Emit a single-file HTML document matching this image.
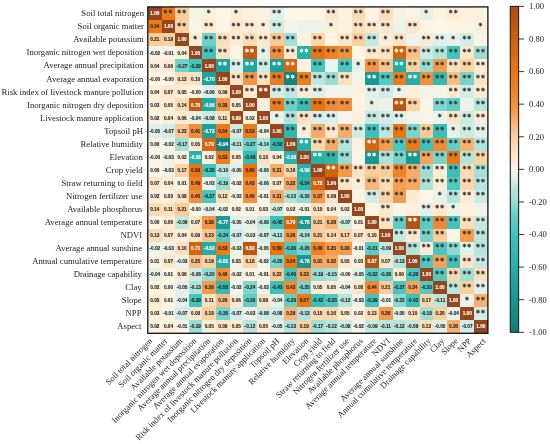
<!DOCTYPE html>
<html lang="en"><head><meta charset="utf-8"><title>Correlation heatmap</title>
<style>html,body{margin:0;padding:0;background:#fff}body{width:550px;height:444px;overflow:hidden}</style></head>
<body>
<svg width="550" height="444" viewBox="0 0 550 444" style="display:block">
<rect width="550" height="444" fill="#ffffff"/>
<g shape-rendering="crispEdges">
<rect x="148.10" y="7.20" width="13.88" height="13.33" fill="#96461c"/>
<rect x="161.68" y="7.20" width="13.88" height="13.33" fill="#ed7a1a"/>
<rect x="175.26" y="7.20" width="13.88" height="13.33" fill="#fccc9b"/>
<rect x="188.84" y="7.20" width="13.88" height="13.33" fill="#f1f4e7"/>
<rect x="202.42" y="7.20" width="13.88" height="13.33" fill="#fdeed8"/>
<rect x="216.00" y="7.20" width="13.88" height="13.33" fill="#fdf6e6"/>
<rect x="229.58" y="7.20" width="13.88" height="13.33" fill="#fdeed8"/>
<rect x="243.16" y="7.20" width="13.88" height="13.33" fill="#fdf0dc"/>
<rect x="256.74" y="7.20" width="13.88" height="13.33" fill="#fdf2df"/>
<rect x="270.32" y="7.20" width="13.88" height="13.33" fill="#e0f1e9"/>
<rect x="283.90" y="7.20" width="13.88" height="13.33" fill="#fdf6e6"/>
<rect x="297.48" y="7.20" width="13.88" height="13.33" fill="#fdf6e6"/>
<rect x="311.06" y="7.20" width="13.88" height="13.33" fill="#fdf6e6"/>
<rect x="324.64" y="7.20" width="13.88" height="13.33" fill="#fde8ce"/>
<rect x="338.22" y="7.20" width="13.88" height="13.33" fill="#fdf2df"/>
<rect x="351.80" y="7.20" width="13.88" height="13.33" fill="#fcdbb5"/>
<rect x="365.38" y="7.20" width="13.88" height="13.33" fill="#fdf6e6"/>
<rect x="378.96" y="7.20" width="13.88" height="13.33" fill="#fcddb8"/>
<rect x="392.54" y="7.20" width="13.88" height="13.33" fill="#f1f4e7"/>
<rect x="406.12" y="7.20" width="13.88" height="13.33" fill="#fdf4e2"/>
<rect x="419.70" y="7.20" width="13.88" height="13.33" fill="#e6f2e8"/>
<rect x="433.28" y="7.20" width="13.88" height="13.33" fill="#fdf2df"/>
<rect x="446.86" y="7.20" width="13.88" height="13.33" fill="#fdecd4"/>
<rect x="460.44" y="7.20" width="13.88" height="13.33" fill="#fdf0dc"/>
<rect x="474.02" y="7.20" width="13.88" height="13.33" fill="#fdf2df"/>
<rect x="148.10" y="20.23" width="13.88" height="13.33" fill="#ed7a1a"/>
<rect x="161.68" y="20.23" width="13.88" height="13.33" fill="#96461c"/>
<rect x="175.26" y="20.23" width="13.88" height="13.33" fill="#fcd1a4"/>
<rect x="188.84" y="20.23" width="13.88" height="13.33" fill="#f7f5e7"/>
<rect x="202.42" y="20.23" width="13.88" height="13.33" fill="#fdead1"/>
<rect x="216.00" y="20.23" width="13.88" height="13.33" fill="#fdf6e6"/>
<rect x="229.58" y="20.23" width="13.88" height="13.33" fill="#fde8ce"/>
<rect x="243.16" y="20.23" width="13.88" height="13.33" fill="#fdecd4"/>
<rect x="256.74" y="20.23" width="13.88" height="13.33" fill="#fdeed8"/>
<rect x="270.32" y="20.23" width="13.88" height="13.33" fill="#d2ede5"/>
<rect x="283.90" y="20.23" width="13.88" height="13.33" fill="#f1f4e7"/>
<rect x="297.48" y="20.23" width="13.88" height="13.33" fill="#ecf3e8"/>
<rect x="311.06" y="20.23" width="13.88" height="13.33" fill="#ecf3e8"/>
<rect x="324.64" y="20.23" width="13.88" height="13.33" fill="#fdeed8"/>
<rect x="338.22" y="20.23" width="13.88" height="13.33" fill="#fdf0dc"/>
<rect x="351.80" y="20.23" width="13.88" height="13.33" fill="#fce1c0"/>
<rect x="365.38" y="20.23" width="13.88" height="13.33" fill="#fdead1"/>
<rect x="378.96" y="20.23" width="13.88" height="13.33" fill="#fde8ce"/>
<rect x="392.54" y="20.23" width="13.88" height="13.33" fill="#ecf3e8"/>
<rect x="406.12" y="20.23" width="13.88" height="13.33" fill="#fde8ce"/>
<rect x="419.70" y="20.23" width="13.88" height="13.33" fill="#fdf4e2"/>
<rect x="433.28" y="20.23" width="13.88" height="13.33" fill="#fdf6e6"/>
<rect x="446.86" y="20.23" width="13.88" height="13.33" fill="#fdf4e2"/>
<rect x="460.44" y="20.23" width="13.88" height="13.33" fill="#f7f5e7"/>
<rect x="474.02" y="20.23" width="13.88" height="13.33" fill="#fdeed8"/>
<rect x="148.10" y="33.26" width="13.88" height="13.33" fill="#fccc9b"/>
<rect x="161.68" y="33.26" width="13.88" height="13.33" fill="#fcd1a4"/>
<rect x="175.26" y="33.26" width="13.88" height="13.33" fill="#96461c"/>
<rect x="188.84" y="33.26" width="13.88" height="13.33" fill="#fdeed8"/>
<rect x="202.42" y="33.26" width="13.88" height="13.33" fill="#6fd2ca"/>
<rect x="216.00" y="33.26" width="13.88" height="13.33" fill="#fcdfbc"/>
<rect x="229.58" y="33.26" width="13.88" height="13.33" fill="#fdecd4"/>
<rect x="243.16" y="33.26" width="13.88" height="13.33" fill="#fcdbb5"/>
<rect x="256.74" y="33.26" width="13.88" height="13.33" fill="#fdead1"/>
<rect x="270.32" y="33.26" width="13.88" height="13.33" fill="#fbc896"/>
<rect x="283.90" y="33.26" width="13.88" height="13.33" fill="#a2dfd7"/>
<rect x="297.48" y="33.26" width="13.88" height="13.33" fill="#fdf2df"/>
<rect x="311.06" y="33.26" width="13.88" height="13.33" fill="#fcd5aa"/>
<rect x="324.64" y="33.26" width="13.88" height="13.33" fill="#fdf4e2"/>
<rect x="338.22" y="33.26" width="13.88" height="13.33" fill="#fde6ca"/>
<rect x="351.80" y="33.26" width="13.88" height="13.33" fill="#fccc9b"/>
<rect x="365.38" y="33.26" width="13.88" height="13.33" fill="#c5e9e1"/>
<rect x="378.96" y="33.26" width="13.88" height="13.33" fill="#fdeed8"/>
<rect x="392.54" y="33.26" width="13.88" height="13.33" fill="#fce2c3"/>
<rect x="406.12" y="33.26" width="13.88" height="13.33" fill="#ecf3e8"/>
<rect x="419.70" y="33.26" width="13.88" height="13.33" fill="#fdead1"/>
<rect x="433.28" y="33.26" width="13.88" height="13.33" fill="#e0f1e9"/>
<rect x="446.86" y="33.26" width="13.88" height="13.33" fill="#e6f2e8"/>
<rect x="460.44" y="33.26" width="13.88" height="13.33" fill="#d2ede5"/>
<rect x="474.02" y="33.26" width="13.88" height="13.33" fill="#f7f5e7"/>
<rect x="148.10" y="46.30" width="13.88" height="13.33" fill="#f1f4e7"/>
<rect x="161.68" y="46.30" width="13.88" height="13.33" fill="#f7f5e7"/>
<rect x="175.26" y="46.30" width="13.88" height="13.33" fill="#fdeed8"/>
<rect x="188.84" y="46.30" width="13.88" height="13.33" fill="#96461c"/>
<rect x="202.42" y="46.30" width="13.88" height="13.33" fill="#41c4bd"/>
<rect x="216.00" y="46.30" width="13.88" height="13.33" fill="#fce2c3"/>
<rect x="229.58" y="46.30" width="13.88" height="13.33" fill="#fdf6e6"/>
<rect x="243.16" y="46.30" width="13.88" height="13.33" fill="#c65c10"/>
<rect x="256.74" y="46.30" width="13.88" height="13.33" fill="#e6f2e8"/>
<rect x="270.32" y="46.30" width="13.88" height="13.33" fill="#f38c38"/>
<rect x="283.90" y="46.30" width="13.88" height="13.33" fill="#fdecd4"/>
<rect x="297.48" y="46.30" width="13.88" height="13.33" fill="#28b1aa"/>
<rect x="311.06" y="46.30" width="13.88" height="13.33" fill="#eb7410"/>
<rect x="324.64" y="46.30" width="13.88" height="13.33" fill="#ef8024"/>
<rect x="338.22" y="46.30" width="13.88" height="13.33" fill="#f38e3a"/>
<rect x="351.80" y="46.30" width="13.88" height="13.33" fill="#fdf6e6"/>
<rect x="365.38" y="46.30" width="13.88" height="13.33" fill="#fde8ce"/>
<rect x="378.96" y="46.30" width="13.88" height="13.33" fill="#fde4c6"/>
<rect x="392.54" y="46.30" width="13.88" height="13.33" fill="#d4650f"/>
<rect x="406.12" y="46.30" width="13.88" height="13.33" fill="#fabf86"/>
<rect x="419.70" y="46.30" width="13.88" height="13.33" fill="#ccebe3"/>
<rect x="433.28" y="46.30" width="13.88" height="13.33" fill="#b2e4db"/>
<rect x="446.86" y="46.30" width="13.88" height="13.33" fill="#41c4bd"/>
<rect x="460.44" y="46.30" width="13.88" height="13.33" fill="#fde6ca"/>
<rect x="474.02" y="46.30" width="13.88" height="13.33" fill="#9addd4"/>
<rect x="148.10" y="59.33" width="13.88" height="13.33" fill="#fdeed8"/>
<rect x="161.68" y="59.33" width="13.88" height="13.33" fill="#fdead1"/>
<rect x="175.26" y="59.33" width="13.88" height="13.33" fill="#6fd2ca"/>
<rect x="188.84" y="59.33" width="13.88" height="13.33" fill="#41c4bd"/>
<rect x="202.42" y="59.33" width="13.88" height="13.33" fill="#96461c"/>
<rect x="216.00" y="59.33" width="13.88" height="13.33" fill="#20a29c"/>
<rect x="229.58" y="59.33" width="13.88" height="13.33" fill="#d9efe7"/>
<rect x="243.16" y="59.33" width="13.88" height="13.33" fill="#22a8a1"/>
<rect x="256.74" y="59.33" width="13.88" height="13.33" fill="#ccebe3"/>
<rect x="270.32" y="59.33" width="13.88" height="13.33" fill="#1e9f98"/>
<rect x="283.90" y="59.33" width="13.88" height="13.33" fill="#d6660f"/>
<rect x="297.48" y="59.33" width="13.88" height="13.33" fill="#fdf2df"/>
<rect x="311.06" y="59.33" width="13.88" height="13.33" fill="#45c5be"/>
<rect x="324.64" y="59.33" width="13.88" height="13.33" fill="#ecf3e8"/>
<rect x="338.22" y="59.33" width="13.88" height="13.33" fill="#48c6bf"/>
<rect x="351.80" y="59.33" width="13.88" height="13.33" fill="#e6f2e8"/>
<rect x="365.38" y="59.33" width="13.88" height="13.33" fill="#f49444"/>
<rect x="378.96" y="59.33" width="13.88" height="13.33" fill="#fbc591"/>
<rect x="392.54" y="59.33" width="13.88" height="13.33" fill="#24aba4"/>
<rect x="406.12" y="59.33" width="13.88" height="13.33" fill="#fcd1a4"/>
<rect x="419.70" y="59.33" width="13.88" height="13.33" fill="#96dcd3"/>
<rect x="433.28" y="59.33" width="13.88" height="13.33" fill="#f59b4e"/>
<rect x="446.86" y="59.33" width="13.88" height="13.33" fill="#fce1c0"/>
<rect x="460.44" y="59.33" width="13.88" height="13.33" fill="#fcd3a7"/>
<rect x="474.02" y="59.33" width="13.88" height="13.33" fill="#fdecd4"/>
<rect x="148.10" y="72.36" width="13.88" height="13.33" fill="#fdf6e6"/>
<rect x="161.68" y="72.36" width="13.88" height="13.33" fill="#fdf6e6"/>
<rect x="175.26" y="72.36" width="13.88" height="13.33" fill="#fcdfbc"/>
<rect x="188.84" y="72.36" width="13.88" height="13.33" fill="#fce2c3"/>
<rect x="202.42" y="72.36" width="13.88" height="13.33" fill="#20a29c"/>
<rect x="216.00" y="72.36" width="13.88" height="13.33" fill="#96461c"/>
<rect x="229.58" y="72.36" width="13.88" height="13.33" fill="#fde4c6"/>
<rect x="243.16" y="72.36" width="13.88" height="13.33" fill="#f49444"/>
<rect x="256.74" y="72.36" width="13.88" height="13.33" fill="#fce1c0"/>
<rect x="270.32" y="72.36" width="13.88" height="13.33" fill="#ed7a1a"/>
<rect x="283.90" y="72.36" width="13.88" height="13.33" fill="#11847f"/>
<rect x="297.48" y="72.36" width="13.88" height="13.33" fill="#ee7b1c"/>
<rect x="311.06" y="72.36" width="13.88" height="13.33" fill="#bee7df"/>
<rect x="324.64" y="72.36" width="13.88" height="13.33" fill="#9addd4"/>
<rect x="338.22" y="72.36" width="13.88" height="13.33" fill="#fcdfbc"/>
<rect x="351.80" y="72.36" width="13.88" height="13.33" fill="#f1f4e7"/>
<rect x="365.38" y="72.36" width="13.88" height="13.33" fill="#1b9a94"/>
<rect x="378.96" y="72.36" width="13.88" height="13.33" fill="#52c9c2"/>
<rect x="392.54" y="72.36" width="13.88" height="13.33" fill="#ee7b1c"/>
<rect x="406.12" y="72.36" width="13.88" height="13.33" fill="#25aea7"/>
<rect x="419.70" y="72.36" width="13.88" height="13.33" fill="#f38e3a"/>
<rect x="433.28" y="72.36" width="13.88" height="13.33" fill="#32b9b2"/>
<rect x="446.86" y="72.36" width="13.88" height="13.33" fill="#f9bc81"/>
<rect x="460.44" y="72.36" width="13.88" height="13.33" fill="#75d3cb"/>
<rect x="474.02" y="72.36" width="13.88" height="13.33" fill="#fde4c6"/>
<rect x="148.10" y="85.39" width="13.88" height="13.33" fill="#fdeed8"/>
<rect x="161.68" y="85.39" width="13.88" height="13.33" fill="#fde8ce"/>
<rect x="175.26" y="85.39" width="13.88" height="13.33" fill="#fdecd4"/>
<rect x="188.84" y="85.39" width="13.88" height="13.33" fill="#fdf6e6"/>
<rect x="202.42" y="85.39" width="13.88" height="13.33" fill="#d9efe7"/>
<rect x="216.00" y="85.39" width="13.88" height="13.33" fill="#fde4c6"/>
<rect x="229.58" y="85.39" width="13.88" height="13.33" fill="#96461c"/>
<rect x="243.16" y="85.39" width="13.88" height="13.33" fill="#fdecd4"/>
<rect x="256.74" y="85.39" width="13.88" height="13.33" fill="#98471b"/>
<rect x="270.32" y="85.39" width="13.88" height="13.33" fill="#d2ede5"/>
<rect x="283.90" y="85.39" width="13.88" height="13.33" fill="#bae6de"/>
<rect x="297.48" y="85.39" width="13.88" height="13.33" fill="#fdecd4"/>
<rect x="311.06" y="85.39" width="13.88" height="13.33" fill="#e0f1e9"/>
<rect x="324.64" y="85.39" width="13.88" height="13.33" fill="#f1f4e7"/>
<rect x="338.22" y="85.39" width="13.88" height="13.33" fill="#f1f4e7"/>
<rect x="351.80" y="85.39" width="13.88" height="13.33" fill="#fdf2df"/>
<rect x="365.38" y="85.39" width="13.88" height="13.33" fill="#e0f1e9"/>
<rect x="378.96" y="85.39" width="13.88" height="13.33" fill="#d2ede5"/>
<rect x="392.54" y="85.39" width="13.88" height="13.33" fill="#ecf3e8"/>
<rect x="406.12" y="85.39" width="13.88" height="13.33" fill="#fdf0dc"/>
<rect x="419.70" y="85.39" width="13.88" height="13.33" fill="#f1f4e7"/>
<rect x="433.28" y="85.39" width="13.88" height="13.33" fill="#f1f4e7"/>
<rect x="446.86" y="85.39" width="13.88" height="13.33" fill="#fdead1"/>
<rect x="460.44" y="85.39" width="13.88" height="13.33" fill="#d2ede5"/>
<rect x="474.02" y="85.39" width="13.88" height="13.33" fill="#fdecd4"/>
<rect x="148.10" y="98.42" width="13.88" height="13.33" fill="#fdf0dc"/>
<rect x="161.68" y="98.42" width="13.88" height="13.33" fill="#fdecd4"/>
<rect x="175.26" y="98.42" width="13.88" height="13.33" fill="#fcdbb5"/>
<rect x="188.84" y="98.42" width="13.88" height="13.33" fill="#c65c10"/>
<rect x="202.42" y="98.42" width="13.88" height="13.33" fill="#22a8a1"/>
<rect x="216.00" y="98.42" width="13.88" height="13.33" fill="#f49444"/>
<rect x="229.58" y="98.42" width="13.88" height="13.33" fill="#fdecd4"/>
<rect x="243.16" y="98.42" width="13.88" height="13.33" fill="#96461c"/>
<rect x="256.74" y="98.42" width="13.88" height="13.33" fill="#fdf2df"/>
<rect x="270.32" y="98.42" width="13.88" height="13.33" fill="#ee7b1c"/>
<rect x="283.90" y="98.42" width="13.88" height="13.33" fill="#6fd2ca"/>
<rect x="297.48" y="98.42" width="13.88" height="13.33" fill="#34bbb4"/>
<rect x="311.06" y="98.42" width="13.88" height="13.33" fill="#eb730e"/>
<rect x="324.64" y="98.42" width="13.88" height="13.33" fill="#f28a33"/>
<rect x="338.22" y="98.42" width="13.88" height="13.33" fill="#f38e3a"/>
<rect x="351.80" y="98.42" width="13.88" height="13.33" fill="#fdf4e2"/>
<rect x="365.38" y="98.42" width="13.88" height="13.33" fill="#e6f2e8"/>
<rect x="378.96" y="98.42" width="13.88" height="13.33" fill="#ecf3e8"/>
<rect x="392.54" y="98.42" width="13.88" height="13.33" fill="#bb5712"/>
<rect x="406.12" y="98.42" width="13.88" height="13.33" fill="#fcd3a7"/>
<rect x="419.70" y="98.42" width="13.88" height="13.33" fill="#fdf4e2"/>
<rect x="433.28" y="98.42" width="13.88" height="13.33" fill="#80d6ce"/>
<rect x="446.86" y="98.42" width="13.88" height="13.33" fill="#5fcdc6"/>
<rect x="460.44" y="98.42" width="13.88" height="13.33" fill="#ecf3e8"/>
<rect x="474.02" y="98.42" width="13.88" height="13.33" fill="#b6e5dd"/>
<rect x="148.10" y="111.46" width="13.88" height="13.33" fill="#fdf2df"/>
<rect x="161.68" y="111.46" width="13.88" height="13.33" fill="#fdeed8"/>
<rect x="175.26" y="111.46" width="13.88" height="13.33" fill="#fdead1"/>
<rect x="188.84" y="111.46" width="13.88" height="13.33" fill="#e6f2e8"/>
<rect x="202.42" y="111.46" width="13.88" height="13.33" fill="#ccebe3"/>
<rect x="216.00" y="111.46" width="13.88" height="13.33" fill="#fce1c0"/>
<rect x="229.58" y="111.46" width="13.88" height="13.33" fill="#98471b"/>
<rect x="243.16" y="111.46" width="13.88" height="13.33" fill="#fdf2df"/>
<rect x="256.74" y="111.46" width="13.88" height="13.33" fill="#96461c"/>
<rect x="270.32" y="111.46" width="13.88" height="13.33" fill="#e6f2e8"/>
<rect x="283.90" y="111.46" width="13.88" height="13.33" fill="#aee3da"/>
<rect x="297.48" y="111.46" width="13.88" height="13.33" fill="#fce2c3"/>
<rect x="311.06" y="111.46" width="13.88" height="13.33" fill="#d9efe7"/>
<rect x="324.64" y="111.46" width="13.88" height="13.33" fill="#d9efe7"/>
<rect x="338.22" y="111.46" width="13.88" height="13.33" fill="#f7f5e7"/>
<rect x="351.80" y="111.46" width="13.88" height="13.33" fill="#fdf0dc"/>
<rect x="365.38" y="111.46" width="13.88" height="13.33" fill="#c5e9e1"/>
<rect x="378.96" y="111.46" width="13.88" height="13.33" fill="#d2ede5"/>
<rect x="392.54" y="111.46" width="13.88" height="13.33" fill="#e0f1e9"/>
<rect x="406.12" y="111.46" width="13.88" height="13.33" fill="#f1f4e7"/>
<rect x="419.70" y="111.46" width="13.88" height="13.33" fill="#f7f5e7"/>
<rect x="433.28" y="111.46" width="13.88" height="13.33" fill="#ecf3e8"/>
<rect x="446.86" y="111.46" width="13.88" height="13.33" fill="#fde4c6"/>
<rect x="460.44" y="111.46" width="13.88" height="13.33" fill="#ccebe3"/>
<rect x="474.02" y="111.46" width="13.88" height="13.33" fill="#fdecd4"/>
<rect x="148.10" y="124.49" width="13.88" height="13.33" fill="#e0f1e9"/>
<rect x="161.68" y="124.49" width="13.88" height="13.33" fill="#d2ede5"/>
<rect x="175.26" y="124.49" width="13.88" height="13.33" fill="#fbc896"/>
<rect x="188.84" y="124.49" width="13.88" height="13.33" fill="#f38c38"/>
<rect x="202.42" y="124.49" width="13.88" height="13.33" fill="#1e9f98"/>
<rect x="216.00" y="124.49" width="13.88" height="13.33" fill="#ed7a1a"/>
<rect x="229.58" y="124.49" width="13.88" height="13.33" fill="#d2ede5"/>
<rect x="243.16" y="124.49" width="13.88" height="13.33" fill="#ee7b1c"/>
<rect x="256.74" y="124.49" width="13.88" height="13.33" fill="#e6f2e8"/>
<rect x="270.32" y="124.49" width="13.88" height="13.33" fill="#96461c"/>
<rect x="283.90" y="124.49" width="13.88" height="13.33" fill="#30b7b0"/>
<rect x="297.48" y="124.49" width="13.88" height="13.33" fill="#fdeed8"/>
<rect x="311.06" y="124.49" width="13.88" height="13.33" fill="#f7ab68"/>
<rect x="324.64" y="124.49" width="13.88" height="13.33" fill="#fde8ce"/>
<rect x="338.22" y="124.49" width="13.88" height="13.33" fill="#f7ab68"/>
<rect x="351.80" y="124.49" width="13.88" height="13.33" fill="#d2ede5"/>
<rect x="365.38" y="124.49" width="13.88" height="13.33" fill="#3cc1ba"/>
<rect x="378.96" y="124.49" width="13.88" height="13.33" fill="#bae6de"/>
<rect x="392.54" y="124.49" width="13.88" height="13.33" fill="#eb7410"/>
<rect x="406.12" y="124.49" width="13.88" height="13.33" fill="#7ad4cc"/>
<rect x="419.70" y="124.49" width="13.88" height="13.33" fill="#fbc896"/>
<rect x="433.28" y="124.49" width="13.88" height="13.33" fill="#3ac0b9"/>
<rect x="446.86" y="124.49" width="13.88" height="13.33" fill="#e6f2e8"/>
<rect x="460.44" y="124.49" width="13.88" height="13.33" fill="#ccebe3"/>
<rect x="474.02" y="124.49" width="13.88" height="13.33" fill="#e0f1e9"/>
<rect x="148.10" y="137.52" width="13.88" height="13.33" fill="#fdf6e6"/>
<rect x="161.68" y="137.52" width="13.88" height="13.33" fill="#f1f4e7"/>
<rect x="175.26" y="137.52" width="13.88" height="13.33" fill="#a2dfd7"/>
<rect x="188.84" y="137.52" width="13.88" height="13.33" fill="#fdecd4"/>
<rect x="202.42" y="137.52" width="13.88" height="13.33" fill="#d6660f"/>
<rect x="216.00" y="137.52" width="13.88" height="13.33" fill="#11847f"/>
<rect x="229.58" y="137.52" width="13.88" height="13.33" fill="#bae6de"/>
<rect x="243.16" y="137.52" width="13.88" height="13.33" fill="#6fd2ca"/>
<rect x="256.74" y="137.52" width="13.88" height="13.33" fill="#aee3da"/>
<rect x="270.32" y="137.52" width="13.88" height="13.33" fill="#30b7b0"/>
<rect x="283.90" y="137.52" width="13.88" height="13.33" fill="#96461c"/>
<rect x="297.48" y="137.52" width="13.88" height="13.33" fill="#28b1aa"/>
<rect x="311.06" y="137.52" width="13.88" height="13.33" fill="#fcd7ae"/>
<rect x="324.64" y="137.52" width="13.88" height="13.33" fill="#f7a863"/>
<rect x="338.22" y="137.52" width="13.88" height="13.33" fill="#b2e4db"/>
<rect x="351.80" y="137.52" width="13.88" height="13.33" fill="#fdf2df"/>
<rect x="365.38" y="137.52" width="13.88" height="13.33" fill="#d6660f"/>
<rect x="378.96" y="137.52" width="13.88" height="13.33" fill="#f59b4e"/>
<rect x="392.54" y="137.52" width="13.88" height="13.33" fill="#4bc7c0"/>
<rect x="406.12" y="137.52" width="13.88" height="13.33" fill="#ed7a1a"/>
<rect x="419.70" y="137.52" width="13.88" height="13.33" fill="#3ec3bc"/>
<rect x="433.28" y="137.52" width="13.88" height="13.33" fill="#f28a33"/>
<rect x="446.86" y="137.52" width="13.88" height="13.33" fill="#64cec7"/>
<rect x="460.44" y="137.52" width="13.88" height="13.33" fill="#f8b272"/>
<rect x="474.02" y="137.52" width="13.88" height="13.33" fill="#b2e4db"/>
<rect x="148.10" y="150.55" width="13.88" height="13.33" fill="#fdf6e6"/>
<rect x="161.68" y="150.55" width="13.88" height="13.33" fill="#ecf3e8"/>
<rect x="175.26" y="150.55" width="13.88" height="13.33" fill="#fdf2df"/>
<rect x="188.84" y="150.55" width="13.88" height="13.33" fill="#28b1aa"/>
<rect x="202.42" y="150.55" width="13.88" height="13.33" fill="#fdf2df"/>
<rect x="216.00" y="150.55" width="13.88" height="13.33" fill="#ee7b1c"/>
<rect x="229.58" y="150.55" width="13.88" height="13.33" fill="#fdecd4"/>
<rect x="243.16" y="150.55" width="13.88" height="13.33" fill="#34bbb4"/>
<rect x="256.74" y="150.55" width="13.88" height="13.33" fill="#fce2c3"/>
<rect x="270.32" y="150.55" width="13.88" height="13.33" fill="#fdeed8"/>
<rect x="283.90" y="150.55" width="13.88" height="13.33" fill="#28b1aa"/>
<rect x="297.48" y="150.55" width="13.88" height="13.33" fill="#96461c"/>
<rect x="311.06" y="150.55" width="13.88" height="13.33" fill="#27b0a9"/>
<rect x="324.64" y="150.55" width="13.88" height="13.33" fill="#2db5ae"/>
<rect x="338.22" y="150.55" width="13.88" height="13.33" fill="#96dcd3"/>
<rect x="351.80" y="150.55" width="13.88" height="13.33" fill="#f7f5e7"/>
<rect x="365.38" y="150.55" width="13.88" height="13.33" fill="#1a9892"/>
<rect x="378.96" y="150.55" width="13.88" height="13.33" fill="#aee3da"/>
<rect x="392.54" y="150.55" width="13.88" height="13.33" fill="#75d3cb"/>
<rect x="406.12" y="150.55" width="13.88" height="13.33" fill="#1a9892"/>
<rect x="419.70" y="150.55" width="13.88" height="13.33" fill="#f6a55e"/>
<rect x="433.28" y="150.55" width="13.88" height="13.33" fill="#7ad4cc"/>
<rect x="446.86" y="150.55" width="13.88" height="13.33" fill="#ec7714"/>
<rect x="460.44" y="150.55" width="13.88" height="13.33" fill="#b2e4db"/>
<rect x="474.02" y="150.55" width="13.88" height="13.33" fill="#fcd1a4"/>
<rect x="148.10" y="163.58" width="13.88" height="13.33" fill="#fdf6e6"/>
<rect x="161.68" y="163.58" width="13.88" height="13.33" fill="#ecf3e8"/>
<rect x="175.26" y="163.58" width="13.88" height="13.33" fill="#fcd5aa"/>
<rect x="188.84" y="163.58" width="13.88" height="13.33" fill="#eb7410"/>
<rect x="202.42" y="163.58" width="13.88" height="13.33" fill="#45c5be"/>
<rect x="216.00" y="163.58" width="13.88" height="13.33" fill="#bee7df"/>
<rect x="229.58" y="163.58" width="13.88" height="13.33" fill="#e0f1e9"/>
<rect x="243.16" y="163.58" width="13.88" height="13.33" fill="#eb730e"/>
<rect x="256.74" y="163.58" width="13.88" height="13.33" fill="#d9efe7"/>
<rect x="270.32" y="163.58" width="13.88" height="13.33" fill="#f7ab68"/>
<rect x="283.90" y="163.58" width="13.88" height="13.33" fill="#fcd7ae"/>
<rect x="297.48" y="163.58" width="13.88" height="13.33" fill="#27b0a9"/>
<rect x="311.06" y="163.58" width="13.88" height="13.33" fill="#96461c"/>
<rect x="324.64" y="163.58" width="13.88" height="13.33" fill="#d2640f"/>
<rect x="338.22" y="163.58" width="13.88" height="13.33" fill="#f49849"/>
<rect x="351.80" y="163.58" width="13.88" height="13.33" fill="#fce2c3"/>
<rect x="365.38" y="163.58" width="13.88" height="13.33" fill="#fccc9b"/>
<rect x="378.96" y="163.58" width="13.88" height="13.33" fill="#fccc9b"/>
<rect x="392.54" y="163.58" width="13.88" height="13.33" fill="#ef8024"/>
<rect x="406.12" y="163.58" width="13.88" height="13.33" fill="#f7ab68"/>
<rect x="419.70" y="163.58" width="13.88" height="13.33" fill="#9addd4"/>
<rect x="433.28" y="163.58" width="13.88" height="13.33" fill="#fdecd4"/>
<rect x="446.86" y="163.58" width="13.88" height="13.33" fill="#3cc1ba"/>
<rect x="460.44" y="163.58" width="13.88" height="13.33" fill="#fcd9b2"/>
<rect x="474.02" y="163.58" width="13.88" height="13.33" fill="#a2dfd7"/>
<rect x="148.10" y="176.62" width="13.88" height="13.33" fill="#fde8ce"/>
<rect x="161.68" y="176.62" width="13.88" height="13.33" fill="#fdeed8"/>
<rect x="175.26" y="176.62" width="13.88" height="13.33" fill="#fdf4e2"/>
<rect x="188.84" y="176.62" width="13.88" height="13.33" fill="#ef8024"/>
<rect x="202.42" y="176.62" width="13.88" height="13.33" fill="#ecf3e8"/>
<rect x="216.00" y="176.62" width="13.88" height="13.33" fill="#9addd4"/>
<rect x="229.58" y="176.62" width="13.88" height="13.33" fill="#f1f4e7"/>
<rect x="243.16" y="176.62" width="13.88" height="13.33" fill="#f28a33"/>
<rect x="256.74" y="176.62" width="13.88" height="13.33" fill="#d9efe7"/>
<rect x="270.32" y="176.62" width="13.88" height="13.33" fill="#fde8ce"/>
<rect x="283.90" y="176.62" width="13.88" height="13.33" fill="#f7a863"/>
<rect x="297.48" y="176.62" width="13.88" height="13.33" fill="#2db5ae"/>
<rect x="311.06" y="176.62" width="13.88" height="13.33" fill="#d2640f"/>
<rect x="324.64" y="176.62" width="13.88" height="13.33" fill="#96461c"/>
<rect x="338.22" y="176.62" width="13.88" height="13.33" fill="#fde4c6"/>
<rect x="351.80" y="176.62" width="13.88" height="13.33" fill="#fdeed8"/>
<rect x="365.38" y="176.62" width="13.88" height="13.33" fill="#f8b577"/>
<rect x="378.96" y="176.62" width="13.88" height="13.33" fill="#fcdbb5"/>
<rect x="392.54" y="176.62" width="13.88" height="13.33" fill="#f59e54"/>
<rect x="406.12" y="176.62" width="13.88" height="13.33" fill="#f7a863"/>
<rect x="419.70" y="176.62" width="13.88" height="13.33" fill="#aae2d9"/>
<rect x="433.28" y="176.62" width="13.88" height="13.33" fill="#fdecd4"/>
<rect x="446.86" y="176.62" width="13.88" height="13.33" fill="#4ec8c1"/>
<rect x="460.44" y="176.62" width="13.88" height="13.33" fill="#fcd7ae"/>
<rect x="474.02" y="176.62" width="13.88" height="13.33" fill="#b6e5dd"/>
<rect x="148.10" y="189.65" width="13.88" height="13.33" fill="#fdf2df"/>
<rect x="161.68" y="189.65" width="13.88" height="13.33" fill="#fdf0dc"/>
<rect x="175.26" y="189.65" width="13.88" height="13.33" fill="#fde6ca"/>
<rect x="188.84" y="189.65" width="13.88" height="13.33" fill="#f38e3a"/>
<rect x="202.42" y="189.65" width="13.88" height="13.33" fill="#48c6bf"/>
<rect x="216.00" y="189.65" width="13.88" height="13.33" fill="#fcdfbc"/>
<rect x="229.58" y="189.65" width="13.88" height="13.33" fill="#f1f4e7"/>
<rect x="243.16" y="189.65" width="13.88" height="13.33" fill="#f38e3a"/>
<rect x="256.74" y="189.65" width="13.88" height="13.33" fill="#f7f5e7"/>
<rect x="270.32" y="189.65" width="13.88" height="13.33" fill="#f7ab68"/>
<rect x="283.90" y="189.65" width="13.88" height="13.33" fill="#b2e4db"/>
<rect x="297.48" y="189.65" width="13.88" height="13.33" fill="#96dcd3"/>
<rect x="311.06" y="189.65" width="13.88" height="13.33" fill="#f49849"/>
<rect x="324.64" y="189.65" width="13.88" height="13.33" fill="#fde4c6"/>
<rect x="338.22" y="189.65" width="13.88" height="13.33" fill="#96461c"/>
<rect x="351.80" y="189.65" width="13.88" height="13.33" fill="#fdf2df"/>
<rect x="365.38" y="189.65" width="13.88" height="13.33" fill="#d2ede5"/>
<rect x="378.96" y="189.65" width="13.88" height="13.33" fill="#fcd5aa"/>
<rect x="392.54" y="189.65" width="13.88" height="13.33" fill="#f59b4e"/>
<rect x="406.12" y="189.65" width="13.88" height="13.33" fill="#fdecd4"/>
<rect x="419.70" y="189.65" width="13.88" height="13.33" fill="#fdf6e6"/>
<rect x="433.28" y="189.65" width="13.88" height="13.33" fill="#e6f2e8"/>
<rect x="446.86" y="189.65" width="13.88" height="13.33" fill="#b6e5dd"/>
<rect x="460.44" y="189.65" width="13.88" height="13.33" fill="#fdecd4"/>
<rect x="474.02" y="189.65" width="13.88" height="13.33" fill="#ccebe3"/>
<rect x="148.10" y="202.68" width="13.88" height="13.33" fill="#fcdbb5"/>
<rect x="161.68" y="202.68" width="13.88" height="13.33" fill="#fce1c0"/>
<rect x="175.26" y="202.68" width="13.88" height="13.33" fill="#fccc9b"/>
<rect x="188.84" y="202.68" width="13.88" height="13.33" fill="#fdf6e6"/>
<rect x="202.42" y="202.68" width="13.88" height="13.33" fill="#e6f2e8"/>
<rect x="216.00" y="202.68" width="13.88" height="13.33" fill="#f1f4e7"/>
<rect x="229.58" y="202.68" width="13.88" height="13.33" fill="#fdf2df"/>
<rect x="243.16" y="202.68" width="13.88" height="13.33" fill="#fdf4e2"/>
<rect x="256.74" y="202.68" width="13.88" height="13.33" fill="#fdf0dc"/>
<rect x="270.32" y="202.68" width="13.88" height="13.33" fill="#d2ede5"/>
<rect x="283.90" y="202.68" width="13.88" height="13.33" fill="#fdf2df"/>
<rect x="297.48" y="202.68" width="13.88" height="13.33" fill="#f7f5e7"/>
<rect x="311.06" y="202.68" width="13.88" height="13.33" fill="#fce2c3"/>
<rect x="324.64" y="202.68" width="13.88" height="13.33" fill="#fdeed8"/>
<rect x="338.22" y="202.68" width="13.88" height="13.33" fill="#fdf2df"/>
<rect x="351.80" y="202.68" width="13.88" height="13.33" fill="#96461c"/>
<rect x="365.38" y="202.68" width="13.88" height="13.33" fill="#fdf4e2"/>
<rect x="378.96" y="202.68" width="13.88" height="13.33" fill="#fde8ce"/>
<rect x="392.54" y="202.68" width="13.88" height="13.33" fill="#f7f5e7"/>
<rect x="406.12" y="202.68" width="13.88" height="13.33" fill="#fdf0dc"/>
<rect x="419.70" y="202.68" width="13.88" height="13.33" fill="#e0f1e9"/>
<rect x="433.28" y="202.68" width="13.88" height="13.33" fill="#fde6ca"/>
<rect x="446.86" y="202.68" width="13.88" height="13.33" fill="#ecf3e8"/>
<rect x="460.44" y="202.68" width="13.88" height="13.33" fill="#fdf2df"/>
<rect x="474.02" y="202.68" width="13.88" height="13.33" fill="#f1f4e7"/>
<rect x="148.10" y="215.71" width="13.88" height="13.33" fill="#fdf6e6"/>
<rect x="161.68" y="215.71" width="13.88" height="13.33" fill="#fdead1"/>
<rect x="175.26" y="215.71" width="13.88" height="13.33" fill="#c5e9e1"/>
<rect x="188.84" y="215.71" width="13.88" height="13.33" fill="#fde8ce"/>
<rect x="202.42" y="215.71" width="13.88" height="13.33" fill="#f49444"/>
<rect x="216.00" y="215.71" width="13.88" height="13.33" fill="#1b9a94"/>
<rect x="229.58" y="215.71" width="13.88" height="13.33" fill="#e0f1e9"/>
<rect x="243.16" y="215.71" width="13.88" height="13.33" fill="#e6f2e8"/>
<rect x="256.74" y="215.71" width="13.88" height="13.33" fill="#c5e9e1"/>
<rect x="270.32" y="215.71" width="13.88" height="13.33" fill="#3cc1ba"/>
<rect x="283.90" y="215.71" width="13.88" height="13.33" fill="#d6660f"/>
<rect x="297.48" y="215.71" width="13.88" height="13.33" fill="#1a9892"/>
<rect x="311.06" y="215.71" width="13.88" height="13.33" fill="#fccc9b"/>
<rect x="324.64" y="215.71" width="13.88" height="13.33" fill="#f8b577"/>
<rect x="338.22" y="215.71" width="13.88" height="13.33" fill="#d2ede5"/>
<rect x="351.80" y="215.71" width="13.88" height="13.33" fill="#fdf4e2"/>
<rect x="365.38" y="215.71" width="13.88" height="13.33" fill="#96461c"/>
<rect x="378.96" y="215.71" width="13.88" height="13.33" fill="#fce2c3"/>
<rect x="392.54" y="215.71" width="13.88" height="13.33" fill="#5cccc5"/>
<rect x="406.12" y="215.71" width="13.88" height="13.33" fill="#b35314"/>
<rect x="419.70" y="215.71" width="13.88" height="13.33" fill="#58cbc4"/>
<rect x="433.28" y="215.71" width="13.88" height="13.33" fill="#f18830"/>
<rect x="446.86" y="215.71" width="13.88" height="13.33" fill="#41c4bd"/>
<rect x="460.44" y="215.71" width="13.88" height="13.33" fill="#fcddb8"/>
<rect x="474.02" y="215.71" width="13.88" height="13.33" fill="#c5e9e1"/>
<rect x="148.10" y="228.74" width="13.88" height="13.33" fill="#fcddb8"/>
<rect x="161.68" y="228.74" width="13.88" height="13.33" fill="#fde8ce"/>
<rect x="175.26" y="228.74" width="13.88" height="13.33" fill="#fdeed8"/>
<rect x="188.84" y="228.74" width="13.88" height="13.33" fill="#fde4c6"/>
<rect x="202.42" y="228.74" width="13.88" height="13.33" fill="#fbc591"/>
<rect x="216.00" y="228.74" width="13.88" height="13.33" fill="#52c9c2"/>
<rect x="229.58" y="228.74" width="13.88" height="13.33" fill="#d2ede5"/>
<rect x="243.16" y="228.74" width="13.88" height="13.33" fill="#ecf3e8"/>
<rect x="256.74" y="228.74" width="13.88" height="13.33" fill="#d2ede5"/>
<rect x="270.32" y="228.74" width="13.88" height="13.33" fill="#bae6de"/>
<rect x="283.90" y="228.74" width="13.88" height="13.33" fill="#f59b4e"/>
<rect x="297.48" y="228.74" width="13.88" height="13.33" fill="#aee3da"/>
<rect x="311.06" y="228.74" width="13.88" height="13.33" fill="#fccc9b"/>
<rect x="324.64" y="228.74" width="13.88" height="13.33" fill="#fcdbb5"/>
<rect x="338.22" y="228.74" width="13.88" height="13.33" fill="#fcd5aa"/>
<rect x="351.80" y="228.74" width="13.88" height="13.33" fill="#fde8ce"/>
<rect x="365.38" y="228.74" width="13.88" height="13.33" fill="#fce2c3"/>
<rect x="378.96" y="228.74" width="13.88" height="13.33" fill="#96461c"/>
<rect x="392.54" y="228.74" width="13.88" height="13.33" fill="#c5e9e1"/>
<rect x="406.12" y="228.74" width="13.88" height="13.33" fill="#fde8ce"/>
<rect x="419.70" y="228.74" width="13.88" height="13.33" fill="#75d3cb"/>
<rect x="433.28" y="228.74" width="13.88" height="13.33" fill="#fccc9b"/>
<rect x="446.86" y="228.74" width="13.88" height="13.33" fill="#f7f5e7"/>
<rect x="460.44" y="228.74" width="13.88" height="13.33" fill="#f59b4e"/>
<rect x="474.02" y="228.74" width="13.88" height="13.33" fill="#bae6de"/>
<rect x="148.10" y="241.78" width="13.88" height="13.33" fill="#f1f4e7"/>
<rect x="161.68" y="241.78" width="13.88" height="13.33" fill="#ecf3e8"/>
<rect x="175.26" y="241.78" width="13.88" height="13.33" fill="#fce2c3"/>
<rect x="188.84" y="241.78" width="13.88" height="13.33" fill="#d4650f"/>
<rect x="202.42" y="241.78" width="13.88" height="13.33" fill="#24aba4"/>
<rect x="216.00" y="241.78" width="13.88" height="13.33" fill="#ee7b1c"/>
<rect x="229.58" y="241.78" width="13.88" height="13.33" fill="#ecf3e8"/>
<rect x="243.16" y="241.78" width="13.88" height="13.33" fill="#bb5712"/>
<rect x="256.74" y="241.78" width="13.88" height="13.33" fill="#e0f1e9"/>
<rect x="270.32" y="241.78" width="13.88" height="13.33" fill="#eb7410"/>
<rect x="283.90" y="241.78" width="13.88" height="13.33" fill="#4bc7c0"/>
<rect x="297.48" y="241.78" width="13.88" height="13.33" fill="#75d3cb"/>
<rect x="311.06" y="241.78" width="13.88" height="13.33" fill="#ef8024"/>
<rect x="324.64" y="241.78" width="13.88" height="13.33" fill="#f59e54"/>
<rect x="338.22" y="241.78" width="13.88" height="13.33" fill="#f59b4e"/>
<rect x="351.80" y="241.78" width="13.88" height="13.33" fill="#f7f5e7"/>
<rect x="365.38" y="241.78" width="13.88" height="13.33" fill="#5cccc5"/>
<rect x="378.96" y="241.78" width="13.88" height="13.33" fill="#c5e9e1"/>
<rect x="392.54" y="241.78" width="13.88" height="13.33" fill="#96461c"/>
<rect x="406.12" y="241.78" width="13.88" height="13.33" fill="#b2e4db"/>
<rect x="419.70" y="241.78" width="13.88" height="13.33" fill="#fdead1"/>
<rect x="433.28" y="241.78" width="13.88" height="13.33" fill="#48c6bf"/>
<rect x="446.86" y="241.78" width="13.88" height="13.33" fill="#8bd9d0"/>
<rect x="460.44" y="241.78" width="13.88" height="13.33" fill="#e0f1e9"/>
<rect x="474.02" y="241.78" width="13.88" height="13.33" fill="#b6e5dd"/>
<rect x="148.10" y="254.81" width="13.88" height="13.33" fill="#fdf4e2"/>
<rect x="161.68" y="254.81" width="13.88" height="13.33" fill="#fde8ce"/>
<rect x="175.26" y="254.81" width="13.88" height="13.33" fill="#ecf3e8"/>
<rect x="188.84" y="254.81" width="13.88" height="13.33" fill="#fabf86"/>
<rect x="202.42" y="254.81" width="13.88" height="13.33" fill="#fcd1a4"/>
<rect x="216.00" y="254.81" width="13.88" height="13.33" fill="#25aea7"/>
<rect x="229.58" y="254.81" width="13.88" height="13.33" fill="#fdf0dc"/>
<rect x="243.16" y="254.81" width="13.88" height="13.33" fill="#fcd3a7"/>
<rect x="256.74" y="254.81" width="13.88" height="13.33" fill="#f1f4e7"/>
<rect x="270.32" y="254.81" width="13.88" height="13.33" fill="#7ad4cc"/>
<rect x="283.90" y="254.81" width="13.88" height="13.33" fill="#ed7a1a"/>
<rect x="297.48" y="254.81" width="13.88" height="13.33" fill="#1a9892"/>
<rect x="311.06" y="254.81" width="13.88" height="13.33" fill="#f7ab68"/>
<rect x="324.64" y="254.81" width="13.88" height="13.33" fill="#f7a863"/>
<rect x="338.22" y="254.81" width="13.88" height="13.33" fill="#fdecd4"/>
<rect x="351.80" y="254.81" width="13.88" height="13.33" fill="#fdf0dc"/>
<rect x="365.38" y="254.81" width="13.88" height="13.33" fill="#b35314"/>
<rect x="378.96" y="254.81" width="13.88" height="13.33" fill="#fde8ce"/>
<rect x="392.54" y="254.81" width="13.88" height="13.33" fill="#b2e4db"/>
<rect x="406.12" y="254.81" width="13.88" height="13.33" fill="#96461c"/>
<rect x="419.70" y="254.81" width="13.88" height="13.33" fill="#4bc7c0"/>
<rect x="433.28" y="254.81" width="13.88" height="13.33" fill="#f6a259"/>
<rect x="446.86" y="254.81" width="13.88" height="13.33" fill="#3cc1ba"/>
<rect x="460.44" y="254.81" width="13.88" height="13.33" fill="#fce2c3"/>
<rect x="474.02" y="254.81" width="13.88" height="13.33" fill="#c5e9e1"/>
<rect x="148.10" y="267.84" width="13.88" height="13.33" fill="#e6f2e8"/>
<rect x="161.68" y="267.84" width="13.88" height="13.33" fill="#fdf4e2"/>
<rect x="175.26" y="267.84" width="13.88" height="13.33" fill="#fdead1"/>
<rect x="188.84" y="267.84" width="13.88" height="13.33" fill="#ccebe3"/>
<rect x="202.42" y="267.84" width="13.88" height="13.33" fill="#96dcd3"/>
<rect x="216.00" y="267.84" width="13.88" height="13.33" fill="#f38e3a"/>
<rect x="229.58" y="267.84" width="13.88" height="13.33" fill="#f1f4e7"/>
<rect x="243.16" y="267.84" width="13.88" height="13.33" fill="#fdf4e2"/>
<rect x="256.74" y="267.84" width="13.88" height="13.33" fill="#f7f5e7"/>
<rect x="270.32" y="267.84" width="13.88" height="13.33" fill="#fbc896"/>
<rect x="283.90" y="267.84" width="13.88" height="13.33" fill="#3ec3bc"/>
<rect x="297.48" y="267.84" width="13.88" height="13.33" fill="#f6a55e"/>
<rect x="311.06" y="267.84" width="13.88" height="13.33" fill="#9addd4"/>
<rect x="324.64" y="267.84" width="13.88" height="13.33" fill="#aae2d9"/>
<rect x="338.22" y="267.84" width="13.88" height="13.33" fill="#fdf6e6"/>
<rect x="351.80" y="267.84" width="13.88" height="13.33" fill="#e0f1e9"/>
<rect x="365.38" y="267.84" width="13.88" height="13.33" fill="#58cbc4"/>
<rect x="378.96" y="267.84" width="13.88" height="13.33" fill="#75d3cb"/>
<rect x="392.54" y="267.84" width="13.88" height="13.33" fill="#fdead1"/>
<rect x="406.12" y="267.84" width="13.88" height="13.33" fill="#4bc7c0"/>
<rect x="419.70" y="267.84" width="13.88" height="13.33" fill="#96461c"/>
<rect x="433.28" y="267.84" width="13.88" height="13.33" fill="#55cac3"/>
<rect x="446.86" y="267.84" width="13.88" height="13.33" fill="#fcd5aa"/>
<rect x="460.44" y="267.84" width="13.88" height="13.33" fill="#9eded5"/>
<rect x="474.02" y="267.84" width="13.88" height="13.33" fill="#fcdfbc"/>
<rect x="148.10" y="280.87" width="13.88" height="13.33" fill="#fdf2df"/>
<rect x="161.68" y="280.87" width="13.88" height="13.33" fill="#fdf6e6"/>
<rect x="175.26" y="280.87" width="13.88" height="13.33" fill="#e0f1e9"/>
<rect x="188.84" y="280.87" width="13.88" height="13.33" fill="#b2e4db"/>
<rect x="202.42" y="280.87" width="13.88" height="13.33" fill="#f59b4e"/>
<rect x="216.00" y="280.87" width="13.88" height="13.33" fill="#32b9b2"/>
<rect x="229.58" y="280.87" width="13.88" height="13.33" fill="#f1f4e7"/>
<rect x="243.16" y="280.87" width="13.88" height="13.33" fill="#80d6ce"/>
<rect x="256.74" y="280.87" width="13.88" height="13.33" fill="#ecf3e8"/>
<rect x="270.32" y="280.87" width="13.88" height="13.33" fill="#3ac0b9"/>
<rect x="283.90" y="280.87" width="13.88" height="13.33" fill="#f28a33"/>
<rect x="297.48" y="280.87" width="13.88" height="13.33" fill="#7ad4cc"/>
<rect x="311.06" y="280.87" width="13.88" height="13.33" fill="#fdecd4"/>
<rect x="324.64" y="280.87" width="13.88" height="13.33" fill="#fdecd4"/>
<rect x="338.22" y="280.87" width="13.88" height="13.33" fill="#e6f2e8"/>
<rect x="351.80" y="280.87" width="13.88" height="13.33" fill="#fde6ca"/>
<rect x="365.38" y="280.87" width="13.88" height="13.33" fill="#f18830"/>
<rect x="378.96" y="280.87" width="13.88" height="13.33" fill="#fccc9b"/>
<rect x="392.54" y="280.87" width="13.88" height="13.33" fill="#48c6bf"/>
<rect x="406.12" y="280.87" width="13.88" height="13.33" fill="#f6a259"/>
<rect x="419.70" y="280.87" width="13.88" height="13.33" fill="#55cac3"/>
<rect x="433.28" y="280.87" width="13.88" height="13.33" fill="#96461c"/>
<rect x="446.86" y="280.87" width="13.88" height="13.33" fill="#bae6de"/>
<rect x="460.44" y="280.87" width="13.88" height="13.33" fill="#fccfa0"/>
<rect x="474.02" y="280.87" width="13.88" height="13.33" fill="#e0f1e9"/>
<rect x="148.10" y="293.90" width="13.88" height="13.33" fill="#fdecd4"/>
<rect x="161.68" y="293.90" width="13.88" height="13.33" fill="#fdf4e2"/>
<rect x="175.26" y="293.90" width="13.88" height="13.33" fill="#e6f2e8"/>
<rect x="188.84" y="293.90" width="13.88" height="13.33" fill="#41c4bd"/>
<rect x="202.42" y="293.90" width="13.88" height="13.33" fill="#fce1c0"/>
<rect x="216.00" y="293.90" width="13.88" height="13.33" fill="#f9bc81"/>
<rect x="229.58" y="293.90" width="13.88" height="13.33" fill="#fdead1"/>
<rect x="243.16" y="293.90" width="13.88" height="13.33" fill="#5fcdc6"/>
<rect x="256.74" y="293.90" width="13.88" height="13.33" fill="#fde4c6"/>
<rect x="270.32" y="293.90" width="13.88" height="13.33" fill="#e6f2e8"/>
<rect x="283.90" y="293.90" width="13.88" height="13.33" fill="#64cec7"/>
<rect x="297.48" y="293.90" width="13.88" height="13.33" fill="#ec7714"/>
<rect x="311.06" y="293.90" width="13.88" height="13.33" fill="#3cc1ba"/>
<rect x="324.64" y="293.90" width="13.88" height="13.33" fill="#4ec8c1"/>
<rect x="338.22" y="293.90" width="13.88" height="13.33" fill="#b6e5dd"/>
<rect x="351.80" y="293.90" width="13.88" height="13.33" fill="#ecf3e8"/>
<rect x="365.38" y="293.90" width="13.88" height="13.33" fill="#41c4bd"/>
<rect x="378.96" y="293.90" width="13.88" height="13.33" fill="#f7f5e7"/>
<rect x="392.54" y="293.90" width="13.88" height="13.33" fill="#8bd9d0"/>
<rect x="406.12" y="293.90" width="13.88" height="13.33" fill="#3cc1ba"/>
<rect x="419.70" y="293.90" width="13.88" height="13.33" fill="#fcd5aa"/>
<rect x="433.28" y="293.90" width="13.88" height="13.33" fill="#bae6de"/>
<rect x="446.86" y="293.90" width="13.88" height="13.33" fill="#96461c"/>
<rect x="460.44" y="293.90" width="13.88" height="13.33" fill="#e6f2e8"/>
<rect x="474.02" y="293.90" width="13.88" height="13.33" fill="#f8ae6d"/>
<rect x="148.10" y="306.94" width="13.88" height="13.33" fill="#fdf0dc"/>
<rect x="161.68" y="306.94" width="13.88" height="13.33" fill="#f7f5e7"/>
<rect x="175.26" y="306.94" width="13.88" height="13.33" fill="#d2ede5"/>
<rect x="188.84" y="306.94" width="13.88" height="13.33" fill="#fde6ca"/>
<rect x="202.42" y="306.94" width="13.88" height="13.33" fill="#fcd3a7"/>
<rect x="216.00" y="306.94" width="13.88" height="13.33" fill="#75d3cb"/>
<rect x="229.58" y="306.94" width="13.88" height="13.33" fill="#d2ede5"/>
<rect x="243.16" y="306.94" width="13.88" height="13.33" fill="#ecf3e8"/>
<rect x="256.74" y="306.94" width="13.88" height="13.33" fill="#ccebe3"/>
<rect x="270.32" y="306.94" width="13.88" height="13.33" fill="#ccebe3"/>
<rect x="283.90" y="306.94" width="13.88" height="13.33" fill="#f8b272"/>
<rect x="297.48" y="306.94" width="13.88" height="13.33" fill="#b2e4db"/>
<rect x="311.06" y="306.94" width="13.88" height="13.33" fill="#fcd9b2"/>
<rect x="324.64" y="306.94" width="13.88" height="13.33" fill="#fcd7ae"/>
<rect x="338.22" y="306.94" width="13.88" height="13.33" fill="#fdecd4"/>
<rect x="351.80" y="306.94" width="13.88" height="13.33" fill="#fdf2df"/>
<rect x="365.38" y="306.94" width="13.88" height="13.33" fill="#fcddb8"/>
<rect x="378.96" y="306.94" width="13.88" height="13.33" fill="#f59b4e"/>
<rect x="392.54" y="306.94" width="13.88" height="13.33" fill="#e0f1e9"/>
<rect x="406.12" y="306.94" width="13.88" height="13.33" fill="#fce2c3"/>
<rect x="419.70" y="306.94" width="13.88" height="13.33" fill="#9eded5"/>
<rect x="433.28" y="306.94" width="13.88" height="13.33" fill="#fccfa0"/>
<rect x="446.86" y="306.94" width="13.88" height="13.33" fill="#e6f2e8"/>
<rect x="460.44" y="306.94" width="13.88" height="13.33" fill="#96461c"/>
<rect x="474.02" y="306.94" width="13.88" height="13.33" fill="#d2ede5"/>
<rect x="148.10" y="319.97" width="13.88" height="13.33" fill="#fdf2df"/>
<rect x="161.68" y="319.97" width="13.88" height="13.33" fill="#fdeed8"/>
<rect x="175.26" y="319.97" width="13.88" height="13.33" fill="#f7f5e7"/>
<rect x="188.84" y="319.97" width="13.88" height="13.33" fill="#9addd4"/>
<rect x="202.42" y="319.97" width="13.88" height="13.33" fill="#fdecd4"/>
<rect x="216.00" y="319.97" width="13.88" height="13.33" fill="#fde4c6"/>
<rect x="229.58" y="319.97" width="13.88" height="13.33" fill="#fdecd4"/>
<rect x="243.16" y="319.97" width="13.88" height="13.33" fill="#b6e5dd"/>
<rect x="256.74" y="319.97" width="13.88" height="13.33" fill="#fdecd4"/>
<rect x="270.32" y="319.97" width="13.88" height="13.33" fill="#e0f1e9"/>
<rect x="283.90" y="319.97" width="13.88" height="13.33" fill="#b2e4db"/>
<rect x="297.48" y="319.97" width="13.88" height="13.33" fill="#fcd1a4"/>
<rect x="311.06" y="319.97" width="13.88" height="13.33" fill="#a2dfd7"/>
<rect x="324.64" y="319.97" width="13.88" height="13.33" fill="#b6e5dd"/>
<rect x="338.22" y="319.97" width="13.88" height="13.33" fill="#ccebe3"/>
<rect x="351.80" y="319.97" width="13.88" height="13.33" fill="#f1f4e7"/>
<rect x="365.38" y="319.97" width="13.88" height="13.33" fill="#c5e9e1"/>
<rect x="378.96" y="319.97" width="13.88" height="13.33" fill="#bae6de"/>
<rect x="392.54" y="319.97" width="13.88" height="13.33" fill="#b6e5dd"/>
<rect x="406.12" y="319.97" width="13.88" height="13.33" fill="#c5e9e1"/>
<rect x="419.70" y="319.97" width="13.88" height="13.33" fill="#fcdfbc"/>
<rect x="433.28" y="319.97" width="13.88" height="13.33" fill="#e0f1e9"/>
<rect x="446.86" y="319.97" width="13.88" height="13.33" fill="#f8ae6d"/>
<rect x="460.44" y="319.97" width="13.88" height="13.33" fill="#d2ede5"/>
<rect x="474.02" y="319.97" width="13.88" height="13.33" fill="#96461c"/>
</g>
<g font-family="'Liberation Sans', sans-serif" font-size="4.70" font-weight="bold" text-anchor="middle">
<text x="154.89" y="15.41" fill="#ffffff" stroke="#ffffff" stroke-width="0.12">1.00</text>
<text x="154.89" y="28.44" fill="#2a2622" stroke="#2a2622" stroke-width="0.12">0.54</text>
<text x="168.47" y="28.44" fill="#ffffff" stroke="#ffffff" stroke-width="0.12">1.00</text>
<text x="154.89" y="41.47" fill="#2a2622" stroke="#2a2622" stroke-width="0.12">0.21</text>
<text x="168.47" y="41.47" fill="#2a2622" stroke="#2a2622" stroke-width="0.12">0.19</text>
<text x="182.05" y="41.47" fill="#ffffff" stroke="#ffffff" stroke-width="0.12">1.00</text>
<text x="154.89" y="54.50" fill="#2a2622" stroke="#2a2622" stroke-width="0.12">-0.02</text>
<text x="168.47" y="54.50" fill="#2a2622" stroke="#2a2622" stroke-width="0.12">-0.01</text>
<text x="182.05" y="54.50" fill="#2a2622" stroke="#2a2622" stroke-width="0.12">0.04</text>
<text x="195.63" y="54.50" fill="#ffffff" stroke="#ffffff" stroke-width="0.12">1.00</text>
<text x="154.89" y="67.54" fill="#2a2622" stroke="#2a2622" stroke-width="0.12">0.04</text>
<text x="168.47" y="67.54" fill="#2a2622" stroke="#2a2622" stroke-width="0.12">0.06</text>
<text x="182.05" y="67.54" fill="#2a2622" stroke="#2a2622" stroke-width="0.12">-0.27</text>
<text x="195.63" y="67.54" fill="#2a2622" stroke="#2a2622" stroke-width="0.12">-0.39</text>
<text x="209.21" y="67.54" fill="#ffffff" stroke="#ffffff" stroke-width="0.12">1.00</text>
<text x="154.89" y="80.57" fill="#2a2622" stroke="#2a2622" stroke-width="0.12">-0.00</text>
<text x="168.47" y="80.57" fill="#2a2622" stroke="#2a2622" stroke-width="0.12">-0.00</text>
<text x="182.05" y="80.57" fill="#2a2622" stroke="#2a2622" stroke-width="0.12">0.12</text>
<text x="195.63" y="80.57" fill="#2a2622" stroke="#2a2622" stroke-width="0.12">0.10</text>
<text x="209.21" y="80.57" fill="#ffffff" stroke="#ffffff" stroke-width="0.12">-0.70</text>
<text x="222.79" y="80.57" fill="#ffffff" stroke="#ffffff" stroke-width="0.12">1.00</text>
<text x="154.89" y="93.60" fill="#2a2622" stroke="#2a2622" stroke-width="0.12">0.04</text>
<text x="168.47" y="93.60" fill="#2a2622" stroke="#2a2622" stroke-width="0.12">0.07</text>
<text x="182.05" y="93.60" fill="#2a2622" stroke="#2a2622" stroke-width="0.12">0.05</text>
<text x="195.63" y="93.60" fill="#2a2622" stroke="#2a2622" stroke-width="0.12">-0.00</text>
<text x="209.21" y="93.60" fill="#2a2622" stroke="#2a2622" stroke-width="0.12">-0.06</text>
<text x="222.79" y="93.60" fill="#2a2622" stroke="#2a2622" stroke-width="0.12">0.09</text>
<text x="236.37" y="93.60" fill="#ffffff" stroke="#ffffff" stroke-width="0.12">1.00</text>
<text x="154.89" y="106.63" fill="#2a2622" stroke="#2a2622" stroke-width="0.12">0.03</text>
<text x="168.47" y="106.63" fill="#2a2622" stroke="#2a2622" stroke-width="0.12">0.05</text>
<text x="182.05" y="106.63" fill="#2a2622" stroke="#2a2622" stroke-width="0.12">0.14</text>
<text x="195.63" y="106.63" fill="#ffffff" stroke="#ffffff" stroke-width="0.12">0.78</text>
<text x="209.21" y="106.63" fill="#ffffff" stroke="#ffffff" stroke-width="0.12">-0.66</text>
<text x="222.79" y="106.63" fill="#2a2622" stroke="#2a2622" stroke-width="0.12">0.38</text>
<text x="236.37" y="106.63" fill="#2a2622" stroke="#2a2622" stroke-width="0.12">0.05</text>
<text x="249.95" y="106.63" fill="#ffffff" stroke="#ffffff" stroke-width="0.12">1.00</text>
<text x="154.89" y="119.66" fill="#2a2622" stroke="#2a2622" stroke-width="0.12">0.02</text>
<text x="168.47" y="119.66" fill="#2a2622" stroke="#2a2622" stroke-width="0.12">0.04</text>
<text x="182.05" y="119.66" fill="#2a2622" stroke="#2a2622" stroke-width="0.12">0.06</text>
<text x="195.63" y="119.66" fill="#2a2622" stroke="#2a2622" stroke-width="0.12">-0.04</text>
<text x="209.21" y="119.66" fill="#2a2622" stroke="#2a2622" stroke-width="0.12">-0.08</text>
<text x="222.79" y="119.66" fill="#2a2622" stroke="#2a2622" stroke-width="0.12">0.11</text>
<text x="236.37" y="119.66" fill="#ffffff" stroke="#ffffff" stroke-width="0.12">0.99</text>
<text x="249.95" y="119.66" fill="#2a2622" stroke="#2a2622" stroke-width="0.12">0.02</text>
<text x="263.53" y="119.66" fill="#ffffff" stroke="#ffffff" stroke-width="0.12">1.00</text>
<text x="154.89" y="132.70" fill="#2a2622" stroke="#2a2622" stroke-width="0.12">-0.05</text>
<text x="168.47" y="132.70" fill="#2a2622" stroke="#2a2622" stroke-width="0.12">-0.07</text>
<text x="182.05" y="132.70" fill="#2a2622" stroke="#2a2622" stroke-width="0.12">0.22</text>
<text x="195.63" y="132.70" fill="#2a2622" stroke="#2a2622" stroke-width="0.12">0.41</text>
<text x="209.21" y="132.70" fill="#ffffff" stroke="#ffffff" stroke-width="0.12">-0.73</text>
<text x="222.79" y="132.70" fill="#2a2622" stroke="#2a2622" stroke-width="0.12">0.54</text>
<text x="236.37" y="132.70" fill="#2a2622" stroke="#2a2622" stroke-width="0.12">-0.07</text>
<text x="249.95" y="132.70" fill="#2a2622" stroke="#2a2622" stroke-width="0.12">0.53</text>
<text x="263.53" y="132.70" fill="#2a2622" stroke="#2a2622" stroke-width="0.12">-0.04</text>
<text x="277.11" y="132.70" fill="#ffffff" stroke="#ffffff" stroke-width="0.12">1.00</text>
<text x="154.89" y="145.73" fill="#2a2622" stroke="#2a2622" stroke-width="0.12">0.00</text>
<text x="168.47" y="145.73" fill="#2a2622" stroke="#2a2622" stroke-width="0.12">-0.02</text>
<text x="182.05" y="145.73" fill="#2a2622" stroke="#2a2622" stroke-width="0.12">-0.17</text>
<text x="195.63" y="145.73" fill="#2a2622" stroke="#2a2622" stroke-width="0.12">0.05</text>
<text x="209.21" y="145.73" fill="#ffffff" stroke="#ffffff" stroke-width="0.12">0.70</text>
<text x="222.79" y="145.73" fill="#ffffff" stroke="#ffffff" stroke-width="0.12">-0.94</text>
<text x="236.37" y="145.73" fill="#2a2622" stroke="#2a2622" stroke-width="0.12">-0.11</text>
<text x="249.95" y="145.73" fill="#2a2622" stroke="#2a2622" stroke-width="0.12">-0.27</text>
<text x="263.53" y="145.73" fill="#2a2622" stroke="#2a2622" stroke-width="0.12">-0.14</text>
<text x="277.11" y="145.73" fill="#2a2622" stroke="#2a2622" stroke-width="0.12">-0.52</text>
<text x="290.69" y="145.73" fill="#ffffff" stroke="#ffffff" stroke-width="0.12">1.00</text>
<text x="154.89" y="158.76" fill="#2a2622" stroke="#2a2622" stroke-width="0.12">-0.00</text>
<text x="168.47" y="158.76" fill="#2a2622" stroke="#2a2622" stroke-width="0.12">-0.03</text>
<text x="182.05" y="158.76" fill="#2a2622" stroke="#2a2622" stroke-width="0.12">0.02</text>
<text x="195.63" y="158.76" fill="#ffffff" stroke="#ffffff" stroke-width="0.12">-0.58</text>
<text x="209.21" y="158.76" fill="#2a2622" stroke="#2a2622" stroke-width="0.12">0.02</text>
<text x="222.79" y="158.76" fill="#2a2622" stroke="#2a2622" stroke-width="0.12">0.53</text>
<text x="236.37" y="158.76" fill="#2a2622" stroke="#2a2622" stroke-width="0.12">0.05</text>
<text x="249.95" y="158.76" fill="#2a2622" stroke="#2a2622" stroke-width="0.12">-0.48</text>
<text x="263.53" y="158.76" fill="#2a2622" stroke="#2a2622" stroke-width="0.12">0.10</text>
<text x="277.11" y="158.76" fill="#2a2622" stroke="#2a2622" stroke-width="0.12">0.04</text>
<text x="290.69" y="158.76" fill="#ffffff" stroke="#ffffff" stroke-width="0.12">-0.58</text>
<text x="304.27" y="158.76" fill="#ffffff" stroke="#ffffff" stroke-width="0.12">1.00</text>
<text x="154.89" y="171.79" fill="#2a2622" stroke="#2a2622" stroke-width="0.12">0.00</text>
<text x="168.47" y="171.79" fill="#2a2622" stroke="#2a2622" stroke-width="0.12">-0.03</text>
<text x="182.05" y="171.79" fill="#2a2622" stroke="#2a2622" stroke-width="0.12">0.17</text>
<text x="195.63" y="171.79" fill="#2a2622" stroke="#2a2622" stroke-width="0.12">0.59</text>
<text x="209.21" y="171.79" fill="#2a2622" stroke="#2a2622" stroke-width="0.12">-0.38</text>
<text x="222.79" y="171.79" fill="#2a2622" stroke="#2a2622" stroke-width="0.12">-0.10</text>
<text x="236.37" y="171.79" fill="#2a2622" stroke="#2a2622" stroke-width="0.12">-0.05</text>
<text x="249.95" y="171.79" fill="#2a2622" stroke="#2a2622" stroke-width="0.12">0.60</text>
<text x="263.53" y="171.79" fill="#2a2622" stroke="#2a2622" stroke-width="0.12">-0.06</text>
<text x="277.11" y="171.79" fill="#2a2622" stroke="#2a2622" stroke-width="0.12">0.31</text>
<text x="290.69" y="171.79" fill="#2a2622" stroke="#2a2622" stroke-width="0.12">0.16</text>
<text x="304.27" y="171.79" fill="#ffffff" stroke="#ffffff" stroke-width="0.12">-0.59</text>
<text x="317.85" y="171.79" fill="#ffffff" stroke="#ffffff" stroke-width="0.12">1.00</text>
<text x="154.89" y="184.82" fill="#2a2622" stroke="#2a2622" stroke-width="0.12">0.07</text>
<text x="168.47" y="184.82" fill="#2a2622" stroke="#2a2622" stroke-width="0.12">0.04</text>
<text x="182.05" y="184.82" fill="#2a2622" stroke="#2a2622" stroke-width="0.12">0.01</text>
<text x="195.63" y="184.82" fill="#2a2622" stroke="#2a2622" stroke-width="0.12">0.49</text>
<text x="209.21" y="184.82" fill="#2a2622" stroke="#2a2622" stroke-width="0.12">-0.03</text>
<text x="222.79" y="184.82" fill="#2a2622" stroke="#2a2622" stroke-width="0.12">-0.19</text>
<text x="236.37" y="184.82" fill="#2a2622" stroke="#2a2622" stroke-width="0.12">-0.02</text>
<text x="249.95" y="184.82" fill="#2a2622" stroke="#2a2622" stroke-width="0.12">0.43</text>
<text x="263.53" y="184.82" fill="#2a2622" stroke="#2a2622" stroke-width="0.12">-0.06</text>
<text x="277.11" y="184.82" fill="#2a2622" stroke="#2a2622" stroke-width="0.12">0.07</text>
<text x="290.69" y="184.82" fill="#2a2622" stroke="#2a2622" stroke-width="0.12">0.32</text>
<text x="304.27" y="184.82" fill="#2a2622" stroke="#2a2622" stroke-width="0.12">-0.54</text>
<text x="317.85" y="184.82" fill="#ffffff" stroke="#ffffff" stroke-width="0.12">0.72</text>
<text x="331.43" y="184.82" fill="#ffffff" stroke="#ffffff" stroke-width="0.12">1.00</text>
<text x="154.89" y="197.86" fill="#2a2622" stroke="#2a2622" stroke-width="0.12">0.02</text>
<text x="168.47" y="197.86" fill="#2a2622" stroke="#2a2622" stroke-width="0.12">0.03</text>
<text x="182.05" y="197.86" fill="#2a2622" stroke="#2a2622" stroke-width="0.12">0.08</text>
<text x="195.63" y="197.86" fill="#2a2622" stroke="#2a2622" stroke-width="0.12">0.40</text>
<text x="209.21" y="197.86" fill="#2a2622" stroke="#2a2622" stroke-width="0.12">-0.37</text>
<text x="222.79" y="197.86" fill="#2a2622" stroke="#2a2622" stroke-width="0.12">0.12</text>
<text x="236.37" y="197.86" fill="#2a2622" stroke="#2a2622" stroke-width="0.12">-0.02</text>
<text x="249.95" y="197.86" fill="#2a2622" stroke="#2a2622" stroke-width="0.12">0.40</text>
<text x="263.53" y="197.86" fill="#2a2622" stroke="#2a2622" stroke-width="0.12">-0.01</text>
<text x="277.11" y="197.86" fill="#2a2622" stroke="#2a2622" stroke-width="0.12">0.31</text>
<text x="290.69" y="197.86" fill="#2a2622" stroke="#2a2622" stroke-width="0.12">-0.13</text>
<text x="304.27" y="197.86" fill="#2a2622" stroke="#2a2622" stroke-width="0.12">-0.20</text>
<text x="317.85" y="197.86" fill="#2a2622" stroke="#2a2622" stroke-width="0.12">0.37</text>
<text x="331.43" y="197.86" fill="#2a2622" stroke="#2a2622" stroke-width="0.12">0.09</text>
<text x="345.01" y="197.86" fill="#ffffff" stroke="#ffffff" stroke-width="0.12">1.00</text>
<text x="154.89" y="210.89" fill="#2a2622" stroke="#2a2622" stroke-width="0.12">0.14</text>
<text x="168.47" y="210.89" fill="#2a2622" stroke="#2a2622" stroke-width="0.12">0.11</text>
<text x="182.05" y="210.89" fill="#2a2622" stroke="#2a2622" stroke-width="0.12">0.21</text>
<text x="195.63" y="210.89" fill="#2a2622" stroke="#2a2622" stroke-width="0.12">-0.00</text>
<text x="209.21" y="210.89" fill="#2a2622" stroke="#2a2622" stroke-width="0.12">-0.04</text>
<text x="222.79" y="210.89" fill="#2a2622" stroke="#2a2622" stroke-width="0.12">-0.02</text>
<text x="236.37" y="210.89" fill="#2a2622" stroke="#2a2622" stroke-width="0.12">0.02</text>
<text x="249.95" y="210.89" fill="#2a2622" stroke="#2a2622" stroke-width="0.12">0.01</text>
<text x="263.53" y="210.89" fill="#2a2622" stroke="#2a2622" stroke-width="0.12">0.03</text>
<text x="277.11" y="210.89" fill="#2a2622" stroke="#2a2622" stroke-width="0.12">-0.07</text>
<text x="290.69" y="210.89" fill="#2a2622" stroke="#2a2622" stroke-width="0.12">0.02</text>
<text x="304.27" y="210.89" fill="#2a2622" stroke="#2a2622" stroke-width="0.12">-0.01</text>
<text x="317.85" y="210.89" fill="#2a2622" stroke="#2a2622" stroke-width="0.12">0.10</text>
<text x="331.43" y="210.89" fill="#2a2622" stroke="#2a2622" stroke-width="0.12">0.04</text>
<text x="345.01" y="210.89" fill="#2a2622" stroke="#2a2622" stroke-width="0.12">0.02</text>
<text x="358.59" y="210.89" fill="#ffffff" stroke="#ffffff" stroke-width="0.12">1.00</text>
<text x="154.89" y="223.92" fill="#2a2622" stroke="#2a2622" stroke-width="0.12">0.00</text>
<text x="168.47" y="223.92" fill="#2a2622" stroke="#2a2622" stroke-width="0.12">0.06</text>
<text x="182.05" y="223.92" fill="#2a2622" stroke="#2a2622" stroke-width="0.12">-0.09</text>
<text x="195.63" y="223.92" fill="#2a2622" stroke="#2a2622" stroke-width="0.12">0.07</text>
<text x="209.21" y="223.92" fill="#2a2622" stroke="#2a2622" stroke-width="0.12">0.38</text>
<text x="222.79" y="223.92" fill="#ffffff" stroke="#ffffff" stroke-width="0.12">-0.77</text>
<text x="236.37" y="223.92" fill="#2a2622" stroke="#2a2622" stroke-width="0.12">-0.05</text>
<text x="249.95" y="223.92" fill="#2a2622" stroke="#2a2622" stroke-width="0.12">-0.04</text>
<text x="263.53" y="223.92" fill="#2a2622" stroke="#2a2622" stroke-width="0.12">-0.09</text>
<text x="277.11" y="223.92" fill="#2a2622" stroke="#2a2622" stroke-width="0.12">-0.42</text>
<text x="290.69" y="223.92" fill="#ffffff" stroke="#ffffff" stroke-width="0.12">0.70</text>
<text x="304.27" y="223.92" fill="#ffffff" stroke="#ffffff" stroke-width="0.12">-0.78</text>
<text x="317.85" y="223.92" fill="#2a2622" stroke="#2a2622" stroke-width="0.12">0.21</text>
<text x="331.43" y="223.92" fill="#2a2622" stroke="#2a2622" stroke-width="0.12">0.28</text>
<text x="345.01" y="223.92" fill="#2a2622" stroke="#2a2622" stroke-width="0.12">-0.07</text>
<text x="358.59" y="223.92" fill="#2a2622" stroke="#2a2622" stroke-width="0.12">0.01</text>
<text x="372.17" y="223.92" fill="#ffffff" stroke="#ffffff" stroke-width="0.12">1.00</text>
<text x="154.89" y="236.95" fill="#2a2622" stroke="#2a2622" stroke-width="0.12">0.13</text>
<text x="168.47" y="236.95" fill="#2a2622" stroke="#2a2622" stroke-width="0.12">0.07</text>
<text x="182.05" y="236.95" fill="#2a2622" stroke="#2a2622" stroke-width="0.12">0.04</text>
<text x="195.63" y="236.95" fill="#2a2622" stroke="#2a2622" stroke-width="0.12">0.09</text>
<text x="209.21" y="236.95" fill="#2a2622" stroke="#2a2622" stroke-width="0.12">0.23</text>
<text x="222.79" y="236.95" fill="#2a2622" stroke="#2a2622" stroke-width="0.12">-0.34</text>
<text x="236.37" y="236.95" fill="#2a2622" stroke="#2a2622" stroke-width="0.12">-0.07</text>
<text x="249.95" y="236.95" fill="#2a2622" stroke="#2a2622" stroke-width="0.12">-0.03</text>
<text x="263.53" y="236.95" fill="#2a2622" stroke="#2a2622" stroke-width="0.12">-0.07</text>
<text x="277.11" y="236.95" fill="#2a2622" stroke="#2a2622" stroke-width="0.12">-0.11</text>
<text x="290.69" y="236.95" fill="#2a2622" stroke="#2a2622" stroke-width="0.12">0.36</text>
<text x="304.27" y="236.95" fill="#2a2622" stroke="#2a2622" stroke-width="0.12">-0.14</text>
<text x="317.85" y="236.95" fill="#2a2622" stroke="#2a2622" stroke-width="0.12">0.21</text>
<text x="331.43" y="236.95" fill="#2a2622" stroke="#2a2622" stroke-width="0.12">0.14</text>
<text x="345.01" y="236.95" fill="#2a2622" stroke="#2a2622" stroke-width="0.12">0.17</text>
<text x="358.59" y="236.95" fill="#2a2622" stroke="#2a2622" stroke-width="0.12">0.07</text>
<text x="372.17" y="236.95" fill="#2a2622" stroke="#2a2622" stroke-width="0.12">0.10</text>
<text x="385.75" y="236.95" fill="#ffffff" stroke="#ffffff" stroke-width="0.12">1.00</text>
<text x="154.89" y="249.98" fill="#2a2622" stroke="#2a2622" stroke-width="0.12">-0.02</text>
<text x="168.47" y="249.98" fill="#2a2622" stroke="#2a2622" stroke-width="0.12">-0.03</text>
<text x="182.05" y="249.98" fill="#2a2622" stroke="#2a2622" stroke-width="0.12">0.10</text>
<text x="195.63" y="249.98" fill="#ffffff" stroke="#ffffff" stroke-width="0.12">0.71</text>
<text x="209.21" y="249.98" fill="#ffffff" stroke="#ffffff" stroke-width="0.12">-0.63</text>
<text x="222.79" y="249.98" fill="#2a2622" stroke="#2a2622" stroke-width="0.12">0.53</text>
<text x="236.37" y="249.98" fill="#2a2622" stroke="#2a2622" stroke-width="0.12">-0.03</text>
<text x="249.95" y="249.98" fill="#ffffff" stroke="#ffffff" stroke-width="0.12">0.83</text>
<text x="263.53" y="249.98" fill="#2a2622" stroke="#2a2622" stroke-width="0.12">-0.05</text>
<text x="277.11" y="249.98" fill="#2a2622" stroke="#2a2622" stroke-width="0.12">0.59</text>
<text x="290.69" y="249.98" fill="#2a2622" stroke="#2a2622" stroke-width="0.12">-0.36</text>
<text x="304.27" y="249.98" fill="#2a2622" stroke="#2a2622" stroke-width="0.12">-0.26</text>
<text x="317.85" y="249.98" fill="#2a2622" stroke="#2a2622" stroke-width="0.12">0.49</text>
<text x="331.43" y="249.98" fill="#2a2622" stroke="#2a2622" stroke-width="0.12">0.35</text>
<text x="345.01" y="249.98" fill="#2a2622" stroke="#2a2622" stroke-width="0.12">0.36</text>
<text x="358.59" y="249.98" fill="#2a2622" stroke="#2a2622" stroke-width="0.12">-0.01</text>
<text x="372.17" y="249.98" fill="#2a2622" stroke="#2a2622" stroke-width="0.12">-0.31</text>
<text x="385.75" y="249.98" fill="#2a2622" stroke="#2a2622" stroke-width="0.12">-0.09</text>
<text x="399.33" y="249.98" fill="#ffffff" stroke="#ffffff" stroke-width="0.12">1.00</text>
<text x="154.89" y="263.02" fill="#2a2622" stroke="#2a2622" stroke-width="0.12">0.01</text>
<text x="168.47" y="263.02" fill="#2a2622" stroke="#2a2622" stroke-width="0.12">0.07</text>
<text x="182.05" y="263.02" fill="#2a2622" stroke="#2a2622" stroke-width="0.12">-0.03</text>
<text x="195.63" y="263.02" fill="#2a2622" stroke="#2a2622" stroke-width="0.12">0.25</text>
<text x="209.21" y="263.02" fill="#2a2622" stroke="#2a2622" stroke-width="0.12">0.19</text>
<text x="222.79" y="263.02" fill="#ffffff" stroke="#ffffff" stroke-width="0.12">-0.61</text>
<text x="236.37" y="263.02" fill="#2a2622" stroke="#2a2622" stroke-width="0.12">0.03</text>
<text x="249.95" y="263.02" fill="#2a2622" stroke="#2a2622" stroke-width="0.12">0.18</text>
<text x="263.53" y="263.02" fill="#2a2622" stroke="#2a2622" stroke-width="0.12">-0.02</text>
<text x="277.11" y="263.02" fill="#2a2622" stroke="#2a2622" stroke-width="0.12">-0.25</text>
<text x="290.69" y="263.02" fill="#2a2622" stroke="#2a2622" stroke-width="0.12">0.54</text>
<text x="304.27" y="263.02" fill="#ffffff" stroke="#ffffff" stroke-width="0.12">-0.78</text>
<text x="317.85" y="263.02" fill="#2a2622" stroke="#2a2622" stroke-width="0.12">0.31</text>
<text x="331.43" y="263.02" fill="#2a2622" stroke="#2a2622" stroke-width="0.12">0.32</text>
<text x="345.01" y="263.02" fill="#2a2622" stroke="#2a2622" stroke-width="0.12">0.05</text>
<text x="358.59" y="263.02" fill="#2a2622" stroke="#2a2622" stroke-width="0.12">0.03</text>
<text x="372.17" y="263.02" fill="#ffffff" stroke="#ffffff" stroke-width="0.12">0.87</text>
<text x="385.75" y="263.02" fill="#2a2622" stroke="#2a2622" stroke-width="0.12">0.07</text>
<text x="399.33" y="263.02" fill="#2a2622" stroke="#2a2622" stroke-width="0.12">-0.13</text>
<text x="412.91" y="263.02" fill="#ffffff" stroke="#ffffff" stroke-width="0.12">1.00</text>
<text x="154.89" y="276.05" fill="#2a2622" stroke="#2a2622" stroke-width="0.12">-0.04</text>
<text x="168.47" y="276.05" fill="#2a2622" stroke="#2a2622" stroke-width="0.12">0.01</text>
<text x="182.05" y="276.05" fill="#2a2622" stroke="#2a2622" stroke-width="0.12">0.06</text>
<text x="195.63" y="276.05" fill="#2a2622" stroke="#2a2622" stroke-width="0.12">-0.08</text>
<text x="209.21" y="276.05" fill="#2a2622" stroke="#2a2622" stroke-width="0.12">-0.20</text>
<text x="222.79" y="276.05" fill="#2a2622" stroke="#2a2622" stroke-width="0.12">0.40</text>
<text x="236.37" y="276.05" fill="#2a2622" stroke="#2a2622" stroke-width="0.12">-0.02</text>
<text x="249.95" y="276.05" fill="#2a2622" stroke="#2a2622" stroke-width="0.12">0.01</text>
<text x="263.53" y="276.05" fill="#2a2622" stroke="#2a2622" stroke-width="0.12">-0.01</text>
<text x="277.11" y="276.05" fill="#2a2622" stroke="#2a2622" stroke-width="0.12">0.22</text>
<text x="290.69" y="276.05" fill="#2a2622" stroke="#2a2622" stroke-width="0.12">-0.40</text>
<text x="304.27" y="276.05" fill="#2a2622" stroke="#2a2622" stroke-width="0.12">0.33</text>
<text x="317.85" y="276.05" fill="#2a2622" stroke="#2a2622" stroke-width="0.12">-0.19</text>
<text x="331.43" y="276.05" fill="#2a2622" stroke="#2a2622" stroke-width="0.12">-0.15</text>
<text x="345.01" y="276.05" fill="#2a2622" stroke="#2a2622" stroke-width="0.12">-0.00</text>
<text x="358.59" y="276.05" fill="#2a2622" stroke="#2a2622" stroke-width="0.12">-0.05</text>
<text x="372.17" y="276.05" fill="#2a2622" stroke="#2a2622" stroke-width="0.12">-0.32</text>
<text x="385.75" y="276.05" fill="#2a2622" stroke="#2a2622" stroke-width="0.12">-0.26</text>
<text x="399.33" y="276.05" fill="#2a2622" stroke="#2a2622" stroke-width="0.12">0.06</text>
<text x="412.91" y="276.05" fill="#2a2622" stroke="#2a2622" stroke-width="0.12">-0.36</text>
<text x="426.49" y="276.05" fill="#ffffff" stroke="#ffffff" stroke-width="0.12">1.00</text>
<text x="154.89" y="289.08" fill="#2a2622" stroke="#2a2622" stroke-width="0.12">0.02</text>
<text x="168.47" y="289.08" fill="#2a2622" stroke="#2a2622" stroke-width="0.12">0.00</text>
<text x="182.05" y="289.08" fill="#2a2622" stroke="#2a2622" stroke-width="0.12">-0.05</text>
<text x="195.63" y="289.08" fill="#2a2622" stroke="#2a2622" stroke-width="0.12">-0.13</text>
<text x="209.21" y="289.08" fill="#2a2622" stroke="#2a2622" stroke-width="0.12">0.36</text>
<text x="222.79" y="289.08" fill="#2a2622" stroke="#2a2622" stroke-width="0.12">-0.50</text>
<text x="236.37" y="289.08" fill="#2a2622" stroke="#2a2622" stroke-width="0.12">-0.02</text>
<text x="249.95" y="289.08" fill="#2a2622" stroke="#2a2622" stroke-width="0.12">-0.24</text>
<text x="263.53" y="289.08" fill="#2a2622" stroke="#2a2622" stroke-width="0.12">-0.03</text>
<text x="277.11" y="289.08" fill="#2a2622" stroke="#2a2622" stroke-width="0.12">-0.43</text>
<text x="290.69" y="289.08" fill="#2a2622" stroke="#2a2622" stroke-width="0.12">0.43</text>
<text x="304.27" y="289.08" fill="#2a2622" stroke="#2a2622" stroke-width="0.12">-0.25</text>
<text x="317.85" y="289.08" fill="#2a2622" stroke="#2a2622" stroke-width="0.12">0.05</text>
<text x="331.43" y="289.08" fill="#2a2622" stroke="#2a2622" stroke-width="0.12">0.05</text>
<text x="345.01" y="289.08" fill="#2a2622" stroke="#2a2622" stroke-width="0.12">-0.04</text>
<text x="358.59" y="289.08" fill="#2a2622" stroke="#2a2622" stroke-width="0.12">0.08</text>
<text x="372.17" y="289.08" fill="#2a2622" stroke="#2a2622" stroke-width="0.12">0.44</text>
<text x="385.75" y="289.08" fill="#2a2622" stroke="#2a2622" stroke-width="0.12">0.21</text>
<text x="399.33" y="289.08" fill="#2a2622" stroke="#2a2622" stroke-width="0.12">-0.37</text>
<text x="412.91" y="289.08" fill="#2a2622" stroke="#2a2622" stroke-width="0.12">0.34</text>
<text x="426.49" y="289.08" fill="#2a2622" stroke="#2a2622" stroke-width="0.12">-0.33</text>
<text x="440.07" y="289.08" fill="#ffffff" stroke="#ffffff" stroke-width="0.12">1.00</text>
<text x="154.89" y="302.11" fill="#2a2622" stroke="#2a2622" stroke-width="0.12">0.05</text>
<text x="168.47" y="302.11" fill="#2a2622" stroke="#2a2622" stroke-width="0.12">0.01</text>
<text x="182.05" y="302.11" fill="#2a2622" stroke="#2a2622" stroke-width="0.12">-0.04</text>
<text x="195.63" y="302.11" fill="#2a2622" stroke="#2a2622" stroke-width="0.12">-0.39</text>
<text x="209.21" y="302.11" fill="#2a2622" stroke="#2a2622" stroke-width="0.12">0.11</text>
<text x="222.79" y="302.11" fill="#2a2622" stroke="#2a2622" stroke-width="0.12">0.26</text>
<text x="236.37" y="302.11" fill="#2a2622" stroke="#2a2622" stroke-width="0.12">0.06</text>
<text x="249.95" y="302.11" fill="#2a2622" stroke="#2a2622" stroke-width="0.12">-0.30</text>
<text x="263.53" y="302.11" fill="#2a2622" stroke="#2a2622" stroke-width="0.12">0.09</text>
<text x="277.11" y="302.11" fill="#2a2622" stroke="#2a2622" stroke-width="0.12">-0.04</text>
<text x="290.69" y="302.11" fill="#2a2622" stroke="#2a2622" stroke-width="0.12">-0.29</text>
<text x="304.27" y="302.11" fill="#2a2622" stroke="#2a2622" stroke-width="0.12">0.57</text>
<text x="317.85" y="302.11" fill="#2a2622" stroke="#2a2622" stroke-width="0.12">-0.42</text>
<text x="331.43" y="302.11" fill="#2a2622" stroke="#2a2622" stroke-width="0.12">-0.35</text>
<text x="345.01" y="302.11" fill="#2a2622" stroke="#2a2622" stroke-width="0.12">-0.12</text>
<text x="358.59" y="302.11" fill="#2a2622" stroke="#2a2622" stroke-width="0.12">-0.03</text>
<text x="372.17" y="302.11" fill="#2a2622" stroke="#2a2622" stroke-width="0.12">-0.39</text>
<text x="385.75" y="302.11" fill="#2a2622" stroke="#2a2622" stroke-width="0.12">-0.01</text>
<text x="399.33" y="302.11" fill="#2a2622" stroke="#2a2622" stroke-width="0.12">-0.22</text>
<text x="412.91" y="302.11" fill="#2a2622" stroke="#2a2622" stroke-width="0.12">-0.42</text>
<text x="426.49" y="302.11" fill="#2a2622" stroke="#2a2622" stroke-width="0.12">0.17</text>
<text x="440.07" y="302.11" fill="#2a2622" stroke="#2a2622" stroke-width="0.12">-0.11</text>
<text x="453.65" y="302.11" fill="#ffffff" stroke="#ffffff" stroke-width="0.12">1.00</text>
<text x="154.89" y="315.14" fill="#2a2622" stroke="#2a2622" stroke-width="0.12">0.03</text>
<text x="168.47" y="315.14" fill="#2a2622" stroke="#2a2622" stroke-width="0.12">-0.01</text>
<text x="182.05" y="315.14" fill="#2a2622" stroke="#2a2622" stroke-width="0.12">-0.07</text>
<text x="195.63" y="315.14" fill="#2a2622" stroke="#2a2622" stroke-width="0.12">0.08</text>
<text x="209.21" y="315.14" fill="#2a2622" stroke="#2a2622" stroke-width="0.12">0.18</text>
<text x="222.79" y="315.14" fill="#2a2622" stroke="#2a2622" stroke-width="0.12">-0.26</text>
<text x="236.37" y="315.14" fill="#2a2622" stroke="#2a2622" stroke-width="0.12">-0.07</text>
<text x="249.95" y="315.14" fill="#2a2622" stroke="#2a2622" stroke-width="0.12">-0.03</text>
<text x="263.53" y="315.14" fill="#2a2622" stroke="#2a2622" stroke-width="0.12">-0.08</text>
<text x="277.11" y="315.14" fill="#2a2622" stroke="#2a2622" stroke-width="0.12">-0.08</text>
<text x="290.69" y="315.14" fill="#2a2622" stroke="#2a2622" stroke-width="0.12">0.29</text>
<text x="304.27" y="315.14" fill="#2a2622" stroke="#2a2622" stroke-width="0.12">-0.13</text>
<text x="317.85" y="315.14" fill="#2a2622" stroke="#2a2622" stroke-width="0.12">0.15</text>
<text x="331.43" y="315.14" fill="#2a2622" stroke="#2a2622" stroke-width="0.12">0.16</text>
<text x="345.01" y="315.14" fill="#2a2622" stroke="#2a2622" stroke-width="0.12">0.05</text>
<text x="358.59" y="315.14" fill="#2a2622" stroke="#2a2622" stroke-width="0.12">0.02</text>
<text x="372.17" y="315.14" fill="#2a2622" stroke="#2a2622" stroke-width="0.12">0.13</text>
<text x="385.75" y="315.14" fill="#2a2622" stroke="#2a2622" stroke-width="0.12">0.36</text>
<text x="399.33" y="315.14" fill="#2a2622" stroke="#2a2622" stroke-width="0.12">-0.05</text>
<text x="412.91" y="315.14" fill="#2a2622" stroke="#2a2622" stroke-width="0.12">0.10</text>
<text x="426.49" y="315.14" fill="#2a2622" stroke="#2a2622" stroke-width="0.12">-0.18</text>
<text x="440.07" y="315.14" fill="#2a2622" stroke="#2a2622" stroke-width="0.12">0.20</text>
<text x="453.65" y="315.14" fill="#2a2622" stroke="#2a2622" stroke-width="0.12">-0.04</text>
<text x="467.23" y="315.14" fill="#ffffff" stroke="#ffffff" stroke-width="0.12">1.00</text>
<text x="154.89" y="328.18" fill="#2a2622" stroke="#2a2622" stroke-width="0.12">0.02</text>
<text x="168.47" y="328.18" fill="#2a2622" stroke="#2a2622" stroke-width="0.12">0.04</text>
<text x="182.05" y="328.18" fill="#2a2622" stroke="#2a2622" stroke-width="0.12">-0.01</text>
<text x="195.63" y="328.18" fill="#2a2622" stroke="#2a2622" stroke-width="0.12">-0.19</text>
<text x="209.21" y="328.18" fill="#2a2622" stroke="#2a2622" stroke-width="0.12">0.05</text>
<text x="222.79" y="328.18" fill="#2a2622" stroke="#2a2622" stroke-width="0.12">0.09</text>
<text x="236.37" y="328.18" fill="#2a2622" stroke="#2a2622" stroke-width="0.12">0.05</text>
<text x="249.95" y="328.18" fill="#2a2622" stroke="#2a2622" stroke-width="0.12">-0.12</text>
<text x="263.53" y="328.18" fill="#2a2622" stroke="#2a2622" stroke-width="0.12">0.05</text>
<text x="277.11" y="328.18" fill="#2a2622" stroke="#2a2622" stroke-width="0.12">-0.05</text>
<text x="290.69" y="328.18" fill="#2a2622" stroke="#2a2622" stroke-width="0.12">-0.13</text>
<text x="304.27" y="328.18" fill="#2a2622" stroke="#2a2622" stroke-width="0.12">0.19</text>
<text x="317.85" y="328.18" fill="#2a2622" stroke="#2a2622" stroke-width="0.12">-0.17</text>
<text x="331.43" y="328.18" fill="#2a2622" stroke="#2a2622" stroke-width="0.12">-0.12</text>
<text x="345.01" y="328.18" fill="#2a2622" stroke="#2a2622" stroke-width="0.12">-0.08</text>
<text x="358.59" y="328.18" fill="#2a2622" stroke="#2a2622" stroke-width="0.12">-0.02</text>
<text x="372.17" y="328.18" fill="#2a2622" stroke="#2a2622" stroke-width="0.12">-0.09</text>
<text x="385.75" y="328.18" fill="#2a2622" stroke="#2a2622" stroke-width="0.12">-0.11</text>
<text x="399.33" y="328.18" fill="#2a2622" stroke="#2a2622" stroke-width="0.12">-0.12</text>
<text x="412.91" y="328.18" fill="#2a2622" stroke="#2a2622" stroke-width="0.12">-0.09</text>
<text x="426.49" y="328.18" fill="#2a2622" stroke="#2a2622" stroke-width="0.12">0.12</text>
<text x="440.07" y="328.18" fill="#2a2622" stroke="#2a2622" stroke-width="0.12">-0.05</text>
<text x="453.65" y="328.18" fill="#2a2622" stroke="#2a2622" stroke-width="0.12">0.30</text>
<text x="467.23" y="328.18" fill="#2a2622" stroke="#2a2622" stroke-width="0.12">-0.07</text>
<text x="480.81" y="328.18" fill="#ffffff" stroke="#ffffff" stroke-width="0.12">1.00</text>
</g>
<g font-family="'Liberation Serif', serif" font-weight="bold" font-size="7.80" text-anchor="middle">
<text x="168.62" y="15.92" fill="#3a3a3a" stroke="#3a3a3a" stroke-width="0.3" letter-spacing="1.1">**</text>
<text x="182.20" y="15.92" fill="#3a3a3a" stroke="#3a3a3a" stroke-width="0.3" letter-spacing="1.1">**</text>
<text x="209.36" y="15.92" fill="#3a3a3a" stroke="#3a3a3a" stroke-width="0.3" letter-spacing="1.1">*</text>
<text x="236.52" y="15.92" fill="#3a3a3a" stroke="#3a3a3a" stroke-width="0.3" letter-spacing="1.1">*</text>
<text x="277.26" y="15.92" fill="#3a3a3a" stroke="#3a3a3a" stroke-width="0.3" letter-spacing="1.1">**</text>
<text x="331.58" y="15.92" fill="#3a3a3a" stroke="#3a3a3a" stroke-width="0.3" letter-spacing="1.1">**</text>
<text x="358.74" y="15.92" fill="#3a3a3a" stroke="#3a3a3a" stroke-width="0.3" letter-spacing="1.1">**</text>
<text x="385.90" y="15.92" fill="#3a3a3a" stroke="#3a3a3a" stroke-width="0.3" letter-spacing="1.1">**</text>
<text x="426.64" y="15.92" fill="#3a3a3a" stroke="#3a3a3a" stroke-width="0.3" letter-spacing="1.1">*</text>
<text x="453.80" y="15.92" fill="#3a3a3a" stroke="#3a3a3a" stroke-width="0.3" letter-spacing="1.1">**</text>
<text x="182.20" y="28.95" fill="#3a3a3a" stroke="#3a3a3a" stroke-width="0.3" letter-spacing="1.1">**</text>
<text x="209.36" y="28.95" fill="#3a3a3a" stroke="#3a3a3a" stroke-width="0.3" letter-spacing="1.1">**</text>
<text x="236.52" y="28.95" fill="#3a3a3a" stroke="#3a3a3a" stroke-width="0.3" letter-spacing="1.1">**</text>
<text x="250.10" y="28.95" fill="#3a3a3a" stroke="#3a3a3a" stroke-width="0.3" letter-spacing="1.1">**</text>
<text x="263.68" y="28.95" fill="#3a3a3a" stroke="#3a3a3a" stroke-width="0.3" letter-spacing="1.1">*</text>
<text x="277.26" y="28.95" fill="#3a3a3a" stroke="#3a3a3a" stroke-width="0.3" letter-spacing="1.1">**</text>
<text x="331.58" y="28.95" fill="#3a3a3a" stroke="#3a3a3a" stroke-width="0.3" letter-spacing="1.1">*</text>
<text x="358.74" y="28.95" fill="#3a3a3a" stroke="#3a3a3a" stroke-width="0.3" letter-spacing="1.1">**</text>
<text x="372.32" y="28.95" fill="#3a3a3a" stroke="#3a3a3a" stroke-width="0.3" letter-spacing="1.1">**</text>
<text x="385.90" y="28.95" fill="#3a3a3a" stroke="#3a3a3a" stroke-width="0.3" letter-spacing="1.1">**</text>
<text x="413.06" y="28.95" fill="#3a3a3a" stroke="#3a3a3a" stroke-width="0.3" letter-spacing="1.1">**</text>
<text x="480.96" y="28.95" fill="#3a3a3a" stroke="#3a3a3a" stroke-width="0.3" letter-spacing="1.1">*</text>
<text x="195.78" y="41.98" fill="#3a3a3a" stroke="#3a3a3a" stroke-width="0.3" letter-spacing="1.1">*</text>
<text x="209.36" y="41.98" fill="#3a3a3a" stroke="#3a3a3a" stroke-width="0.3" letter-spacing="1.1">**</text>
<text x="222.94" y="41.98" fill="#3a3a3a" stroke="#3a3a3a" stroke-width="0.3" letter-spacing="1.1">**</text>
<text x="236.52" y="41.98" fill="#3a3a3a" stroke="#3a3a3a" stroke-width="0.3" letter-spacing="1.1">**</text>
<text x="250.10" y="41.98" fill="#3a3a3a" stroke="#3a3a3a" stroke-width="0.3" letter-spacing="1.1">**</text>
<text x="263.68" y="41.98" fill="#3a3a3a" stroke="#3a3a3a" stroke-width="0.3" letter-spacing="1.1">**</text>
<text x="277.26" y="41.98" fill="#3a3a3a" stroke="#3a3a3a" stroke-width="0.3" letter-spacing="1.1">**</text>
<text x="290.84" y="41.98" fill="#3a3a3a" stroke="#3a3a3a" stroke-width="0.3" letter-spacing="1.1">**</text>
<text x="318.00" y="41.98" fill="#3a3a3a" stroke="#3a3a3a" stroke-width="0.3" letter-spacing="1.1">**</text>
<text x="345.16" y="41.98" fill="#3a3a3a" stroke="#3a3a3a" stroke-width="0.3" letter-spacing="1.1">**</text>
<text x="358.74" y="41.98" fill="#3a3a3a" stroke="#3a3a3a" stroke-width="0.3" letter-spacing="1.1">**</text>
<text x="372.32" y="41.98" fill="#3a3a3a" stroke="#3a3a3a" stroke-width="0.3" letter-spacing="1.1">**</text>
<text x="385.90" y="41.98" fill="#3a3a3a" stroke="#3a3a3a" stroke-width="0.3" letter-spacing="1.1">*</text>
<text x="399.48" y="41.98" fill="#3a3a3a" stroke="#3a3a3a" stroke-width="0.3" letter-spacing="1.1">**</text>
<text x="426.64" y="41.98" fill="#3a3a3a" stroke="#3a3a3a" stroke-width="0.3" letter-spacing="1.1">**</text>
<text x="440.22" y="41.98" fill="#3a3a3a" stroke="#3a3a3a" stroke-width="0.3" letter-spacing="1.1">**</text>
<text x="453.80" y="41.98" fill="#3a3a3a" stroke="#3a3a3a" stroke-width="0.3" letter-spacing="1.1">*</text>
<text x="467.38" y="41.98" fill="#3a3a3a" stroke="#3a3a3a" stroke-width="0.3" letter-spacing="1.1">**</text>
<text x="209.36" y="55.01" fill="#3a3a3a" stroke="#3a3a3a" stroke-width="0.3" letter-spacing="1.1">**</text>
<text x="222.94" y="55.01" fill="#3a3a3a" stroke="#3a3a3a" stroke-width="0.3" letter-spacing="1.1">**</text>
<text x="250.10" y="55.01" fill="#ffffff" stroke="#ffffff" stroke-width="0.3" letter-spacing="1.1">**</text>
<text x="263.68" y="55.01" fill="#3a3a3a" stroke="#3a3a3a" stroke-width="0.3" letter-spacing="1.1">*</text>
<text x="277.26" y="55.01" fill="#3a3a3a" stroke="#3a3a3a" stroke-width="0.3" letter-spacing="1.1">**</text>
<text x="290.84" y="55.01" fill="#3a3a3a" stroke="#3a3a3a" stroke-width="0.3" letter-spacing="1.1">**</text>
<text x="304.42" y="55.01" fill="#ffffff" stroke="#ffffff" stroke-width="0.3" letter-spacing="1.1">**</text>
<text x="318.00" y="55.01" fill="#3a3a3a" stroke="#3a3a3a" stroke-width="0.3" letter-spacing="1.1">**</text>
<text x="331.58" y="55.01" fill="#3a3a3a" stroke="#3a3a3a" stroke-width="0.3" letter-spacing="1.1">**</text>
<text x="345.16" y="55.01" fill="#3a3a3a" stroke="#3a3a3a" stroke-width="0.3" letter-spacing="1.1">**</text>
<text x="372.32" y="55.01" fill="#3a3a3a" stroke="#3a3a3a" stroke-width="0.3" letter-spacing="1.1">**</text>
<text x="385.90" y="55.01" fill="#3a3a3a" stroke="#3a3a3a" stroke-width="0.3" letter-spacing="1.1">**</text>
<text x="399.48" y="55.01" fill="#ffffff" stroke="#ffffff" stroke-width="0.3" letter-spacing="1.1">**</text>
<text x="413.06" y="55.01" fill="#3a3a3a" stroke="#3a3a3a" stroke-width="0.3" letter-spacing="1.1">**</text>
<text x="426.64" y="55.01" fill="#3a3a3a" stroke="#3a3a3a" stroke-width="0.3" letter-spacing="1.1">**</text>
<text x="440.22" y="55.01" fill="#3a3a3a" stroke="#3a3a3a" stroke-width="0.3" letter-spacing="1.1">**</text>
<text x="453.80" y="55.01" fill="#3a3a3a" stroke="#3a3a3a" stroke-width="0.3" letter-spacing="1.1">**</text>
<text x="467.38" y="55.01" fill="#3a3a3a" stroke="#3a3a3a" stroke-width="0.3" letter-spacing="1.1">**</text>
<text x="480.96" y="55.01" fill="#3a3a3a" stroke="#3a3a3a" stroke-width="0.3" letter-spacing="1.1">**</text>
<text x="222.94" y="68.04" fill="#ffffff" stroke="#ffffff" stroke-width="0.3" letter-spacing="1.1">**</text>
<text x="236.52" y="68.04" fill="#3a3a3a" stroke="#3a3a3a" stroke-width="0.3" letter-spacing="1.1">**</text>
<text x="250.10" y="68.04" fill="#ffffff" stroke="#ffffff" stroke-width="0.3" letter-spacing="1.1">**</text>
<text x="263.68" y="68.04" fill="#3a3a3a" stroke="#3a3a3a" stroke-width="0.3" letter-spacing="1.1">**</text>
<text x="277.26" y="68.04" fill="#ffffff" stroke="#ffffff" stroke-width="0.3" letter-spacing="1.1">**</text>
<text x="290.84" y="68.04" fill="#ffffff" stroke="#ffffff" stroke-width="0.3" letter-spacing="1.1">**</text>
<text x="318.00" y="68.04" fill="#3a3a3a" stroke="#3a3a3a" stroke-width="0.3" letter-spacing="1.1">**</text>
<text x="345.16" y="68.04" fill="#3a3a3a" stroke="#3a3a3a" stroke-width="0.3" letter-spacing="1.1">**</text>
<text x="358.74" y="68.04" fill="#3a3a3a" stroke="#3a3a3a" stroke-width="0.3" letter-spacing="1.1">*</text>
<text x="372.32" y="68.04" fill="#3a3a3a" stroke="#3a3a3a" stroke-width="0.3" letter-spacing="1.1">**</text>
<text x="385.90" y="68.04" fill="#3a3a3a" stroke="#3a3a3a" stroke-width="0.3" letter-spacing="1.1">**</text>
<text x="399.48" y="68.04" fill="#ffffff" stroke="#ffffff" stroke-width="0.3" letter-spacing="1.1">**</text>
<text x="413.06" y="68.04" fill="#3a3a3a" stroke="#3a3a3a" stroke-width="0.3" letter-spacing="1.1">**</text>
<text x="426.64" y="68.04" fill="#3a3a3a" stroke="#3a3a3a" stroke-width="0.3" letter-spacing="1.1">**</text>
<text x="440.22" y="68.04" fill="#3a3a3a" stroke="#3a3a3a" stroke-width="0.3" letter-spacing="1.1">**</text>
<text x="453.80" y="68.04" fill="#3a3a3a" stroke="#3a3a3a" stroke-width="0.3" letter-spacing="1.1">**</text>
<text x="467.38" y="68.04" fill="#3a3a3a" stroke="#3a3a3a" stroke-width="0.3" letter-spacing="1.1">**</text>
<text x="480.96" y="68.04" fill="#3a3a3a" stroke="#3a3a3a" stroke-width="0.3" letter-spacing="1.1">**</text>
<text x="236.52" y="81.08" fill="#3a3a3a" stroke="#3a3a3a" stroke-width="0.3" letter-spacing="1.1">**</text>
<text x="250.10" y="81.08" fill="#3a3a3a" stroke="#3a3a3a" stroke-width="0.3" letter-spacing="1.1">**</text>
<text x="263.68" y="81.08" fill="#3a3a3a" stroke="#3a3a3a" stroke-width="0.3" letter-spacing="1.1">**</text>
<text x="277.26" y="81.08" fill="#3a3a3a" stroke="#3a3a3a" stroke-width="0.3" letter-spacing="1.1">**</text>
<text x="290.84" y="81.08" fill="#ffffff" stroke="#ffffff" stroke-width="0.3" letter-spacing="1.1">**</text>
<text x="304.42" y="81.08" fill="#3a3a3a" stroke="#3a3a3a" stroke-width="0.3" letter-spacing="1.1">**</text>
<text x="318.00" y="81.08" fill="#3a3a3a" stroke="#3a3a3a" stroke-width="0.3" letter-spacing="1.1">**</text>
<text x="331.58" y="81.08" fill="#3a3a3a" stroke="#3a3a3a" stroke-width="0.3" letter-spacing="1.1">**</text>
<text x="345.16" y="81.08" fill="#3a3a3a" stroke="#3a3a3a" stroke-width="0.3" letter-spacing="1.1">**</text>
<text x="372.32" y="81.08" fill="#ffffff" stroke="#ffffff" stroke-width="0.3" letter-spacing="1.1">**</text>
<text x="385.90" y="81.08" fill="#3a3a3a" stroke="#3a3a3a" stroke-width="0.3" letter-spacing="1.1">**</text>
<text x="399.48" y="81.08" fill="#3a3a3a" stroke="#3a3a3a" stroke-width="0.3" letter-spacing="1.1">**</text>
<text x="413.06" y="81.08" fill="#ffffff" stroke="#ffffff" stroke-width="0.3" letter-spacing="1.1">**</text>
<text x="426.64" y="81.08" fill="#3a3a3a" stroke="#3a3a3a" stroke-width="0.3" letter-spacing="1.1">**</text>
<text x="440.22" y="81.08" fill="#3a3a3a" stroke="#3a3a3a" stroke-width="0.3" letter-spacing="1.1">**</text>
<text x="453.80" y="81.08" fill="#3a3a3a" stroke="#3a3a3a" stroke-width="0.3" letter-spacing="1.1">**</text>
<text x="467.38" y="81.08" fill="#3a3a3a" stroke="#3a3a3a" stroke-width="0.3" letter-spacing="1.1">**</text>
<text x="480.96" y="81.08" fill="#3a3a3a" stroke="#3a3a3a" stroke-width="0.3" letter-spacing="1.1">**</text>
<text x="250.10" y="94.11" fill="#3a3a3a" stroke="#3a3a3a" stroke-width="0.3" letter-spacing="1.1">**</text>
<text x="263.68" y="94.11" fill="#ffffff" stroke="#ffffff" stroke-width="0.3" letter-spacing="1.1">**</text>
<text x="277.26" y="94.11" fill="#3a3a3a" stroke="#3a3a3a" stroke-width="0.3" letter-spacing="1.1">**</text>
<text x="290.84" y="94.11" fill="#3a3a3a" stroke="#3a3a3a" stroke-width="0.3" letter-spacing="1.1">**</text>
<text x="304.42" y="94.11" fill="#3a3a3a" stroke="#3a3a3a" stroke-width="0.3" letter-spacing="1.1">**</text>
<text x="318.00" y="94.11" fill="#3a3a3a" stroke="#3a3a3a" stroke-width="0.3" letter-spacing="1.1">**</text>
<text x="372.32" y="94.11" fill="#3a3a3a" stroke="#3a3a3a" stroke-width="0.3" letter-spacing="1.1">**</text>
<text x="385.90" y="94.11" fill="#3a3a3a" stroke="#3a3a3a" stroke-width="0.3" letter-spacing="1.1">**</text>
<text x="399.48" y="94.11" fill="#3a3a3a" stroke="#3a3a3a" stroke-width="0.3" letter-spacing="1.1">*</text>
<text x="453.80" y="94.11" fill="#3a3a3a" stroke="#3a3a3a" stroke-width="0.3" letter-spacing="1.1">**</text>
<text x="467.38" y="94.11" fill="#3a3a3a" stroke="#3a3a3a" stroke-width="0.3" letter-spacing="1.1">**</text>
<text x="480.96" y="94.11" fill="#3a3a3a" stroke="#3a3a3a" stroke-width="0.3" letter-spacing="1.1">**</text>
<text x="277.26" y="107.14" fill="#3a3a3a" stroke="#3a3a3a" stroke-width="0.3" letter-spacing="1.1">**</text>
<text x="290.84" y="107.14" fill="#3a3a3a" stroke="#3a3a3a" stroke-width="0.3" letter-spacing="1.1">**</text>
<text x="304.42" y="107.14" fill="#3a3a3a" stroke="#3a3a3a" stroke-width="0.3" letter-spacing="1.1">**</text>
<text x="318.00" y="107.14" fill="#3a3a3a" stroke="#3a3a3a" stroke-width="0.3" letter-spacing="1.1">**</text>
<text x="331.58" y="107.14" fill="#3a3a3a" stroke="#3a3a3a" stroke-width="0.3" letter-spacing="1.1">**</text>
<text x="345.16" y="107.14" fill="#3a3a3a" stroke="#3a3a3a" stroke-width="0.3" letter-spacing="1.1">**</text>
<text x="372.32" y="107.14" fill="#3a3a3a" stroke="#3a3a3a" stroke-width="0.3" letter-spacing="1.1">*</text>
<text x="399.48" y="107.14" fill="#ffffff" stroke="#ffffff" stroke-width="0.3" letter-spacing="1.1">**</text>
<text x="413.06" y="107.14" fill="#3a3a3a" stroke="#3a3a3a" stroke-width="0.3" letter-spacing="1.1">**</text>
<text x="440.22" y="107.14" fill="#3a3a3a" stroke="#3a3a3a" stroke-width="0.3" letter-spacing="1.1">**</text>
<text x="453.80" y="107.14" fill="#3a3a3a" stroke="#3a3a3a" stroke-width="0.3" letter-spacing="1.1">**</text>
<text x="480.96" y="107.14" fill="#3a3a3a" stroke="#3a3a3a" stroke-width="0.3" letter-spacing="1.1">**</text>
<text x="277.26" y="120.17" fill="#3a3a3a" stroke="#3a3a3a" stroke-width="0.3" letter-spacing="1.1">*</text>
<text x="290.84" y="120.17" fill="#3a3a3a" stroke="#3a3a3a" stroke-width="0.3" letter-spacing="1.1">**</text>
<text x="304.42" y="120.17" fill="#3a3a3a" stroke="#3a3a3a" stroke-width="0.3" letter-spacing="1.1">**</text>
<text x="318.00" y="120.17" fill="#3a3a3a" stroke="#3a3a3a" stroke-width="0.3" letter-spacing="1.1">**</text>
<text x="331.58" y="120.17" fill="#3a3a3a" stroke="#3a3a3a" stroke-width="0.3" letter-spacing="1.1">**</text>
<text x="372.32" y="120.17" fill="#3a3a3a" stroke="#3a3a3a" stroke-width="0.3" letter-spacing="1.1">**</text>
<text x="385.90" y="120.17" fill="#3a3a3a" stroke="#3a3a3a" stroke-width="0.3" letter-spacing="1.1">**</text>
<text x="399.48" y="120.17" fill="#3a3a3a" stroke="#3a3a3a" stroke-width="0.3" letter-spacing="1.1">**</text>
<text x="440.22" y="120.17" fill="#3a3a3a" stroke="#3a3a3a" stroke-width="0.3" letter-spacing="1.1">*</text>
<text x="453.80" y="120.17" fill="#3a3a3a" stroke="#3a3a3a" stroke-width="0.3" letter-spacing="1.1">**</text>
<text x="467.38" y="120.17" fill="#3a3a3a" stroke="#3a3a3a" stroke-width="0.3" letter-spacing="1.1">**</text>
<text x="480.96" y="120.17" fill="#3a3a3a" stroke="#3a3a3a" stroke-width="0.3" letter-spacing="1.1">**</text>
<text x="290.84" y="133.20" fill="#3a3a3a" stroke="#3a3a3a" stroke-width="0.3" letter-spacing="1.1">**</text>
<text x="304.42" y="133.20" fill="#3a3a3a" stroke="#3a3a3a" stroke-width="0.3" letter-spacing="1.1">*</text>
<text x="318.00" y="133.20" fill="#3a3a3a" stroke="#3a3a3a" stroke-width="0.3" letter-spacing="1.1">**</text>
<text x="331.58" y="133.20" fill="#3a3a3a" stroke="#3a3a3a" stroke-width="0.3" letter-spacing="1.1">**</text>
<text x="345.16" y="133.20" fill="#3a3a3a" stroke="#3a3a3a" stroke-width="0.3" letter-spacing="1.1">**</text>
<text x="358.74" y="133.20" fill="#3a3a3a" stroke="#3a3a3a" stroke-width="0.3" letter-spacing="1.1">**</text>
<text x="372.32" y="133.20" fill="#3a3a3a" stroke="#3a3a3a" stroke-width="0.3" letter-spacing="1.1">**</text>
<text x="385.90" y="133.20" fill="#3a3a3a" stroke="#3a3a3a" stroke-width="0.3" letter-spacing="1.1">**</text>
<text x="399.48" y="133.20" fill="#3a3a3a" stroke="#3a3a3a" stroke-width="0.3" letter-spacing="1.1">**</text>
<text x="413.06" y="133.20" fill="#3a3a3a" stroke="#3a3a3a" stroke-width="0.3" letter-spacing="1.1">**</text>
<text x="426.64" y="133.20" fill="#3a3a3a" stroke="#3a3a3a" stroke-width="0.3" letter-spacing="1.1">**</text>
<text x="440.22" y="133.20" fill="#3a3a3a" stroke="#3a3a3a" stroke-width="0.3" letter-spacing="1.1">**</text>
<text x="453.80" y="133.20" fill="#3a3a3a" stroke="#3a3a3a" stroke-width="0.3" letter-spacing="1.1">*</text>
<text x="467.38" y="133.20" fill="#3a3a3a" stroke="#3a3a3a" stroke-width="0.3" letter-spacing="1.1">**</text>
<text x="480.96" y="133.20" fill="#3a3a3a" stroke="#3a3a3a" stroke-width="0.3" letter-spacing="1.1">**</text>
<text x="304.42" y="146.24" fill="#ffffff" stroke="#ffffff" stroke-width="0.3" letter-spacing="1.1">**</text>
<text x="318.00" y="146.24" fill="#3a3a3a" stroke="#3a3a3a" stroke-width="0.3" letter-spacing="1.1">**</text>
<text x="331.58" y="146.24" fill="#3a3a3a" stroke="#3a3a3a" stroke-width="0.3" letter-spacing="1.1">**</text>
<text x="345.16" y="146.24" fill="#3a3a3a" stroke="#3a3a3a" stroke-width="0.3" letter-spacing="1.1">**</text>
<text x="372.32" y="146.24" fill="#ffffff" stroke="#ffffff" stroke-width="0.3" letter-spacing="1.1">**</text>
<text x="385.90" y="146.24" fill="#3a3a3a" stroke="#3a3a3a" stroke-width="0.3" letter-spacing="1.1">**</text>
<text x="399.48" y="146.24" fill="#3a3a3a" stroke="#3a3a3a" stroke-width="0.3" letter-spacing="1.1">**</text>
<text x="413.06" y="146.24" fill="#3a3a3a" stroke="#3a3a3a" stroke-width="0.3" letter-spacing="1.1">**</text>
<text x="426.64" y="146.24" fill="#3a3a3a" stroke="#3a3a3a" stroke-width="0.3" letter-spacing="1.1">**</text>
<text x="440.22" y="146.24" fill="#3a3a3a" stroke="#3a3a3a" stroke-width="0.3" letter-spacing="1.1">**</text>
<text x="453.80" y="146.24" fill="#3a3a3a" stroke="#3a3a3a" stroke-width="0.3" letter-spacing="1.1">**</text>
<text x="467.38" y="146.24" fill="#3a3a3a" stroke="#3a3a3a" stroke-width="0.3" letter-spacing="1.1">**</text>
<text x="480.96" y="146.24" fill="#3a3a3a" stroke="#3a3a3a" stroke-width="0.3" letter-spacing="1.1">**</text>
<text x="318.00" y="159.27" fill="#ffffff" stroke="#ffffff" stroke-width="0.3" letter-spacing="1.1">**</text>
<text x="331.58" y="159.27" fill="#3a3a3a" stroke="#3a3a3a" stroke-width="0.3" letter-spacing="1.1">**</text>
<text x="345.16" y="159.27" fill="#3a3a3a" stroke="#3a3a3a" stroke-width="0.3" letter-spacing="1.1">**</text>
<text x="372.32" y="159.27" fill="#ffffff" stroke="#ffffff" stroke-width="0.3" letter-spacing="1.1">**</text>
<text x="385.90" y="159.27" fill="#3a3a3a" stroke="#3a3a3a" stroke-width="0.3" letter-spacing="1.1">**</text>
<text x="399.48" y="159.27" fill="#3a3a3a" stroke="#3a3a3a" stroke-width="0.3" letter-spacing="1.1">**</text>
<text x="413.06" y="159.27" fill="#ffffff" stroke="#ffffff" stroke-width="0.3" letter-spacing="1.1">**</text>
<text x="426.64" y="159.27" fill="#3a3a3a" stroke="#3a3a3a" stroke-width="0.3" letter-spacing="1.1">**</text>
<text x="440.22" y="159.27" fill="#3a3a3a" stroke="#3a3a3a" stroke-width="0.3" letter-spacing="1.1">**</text>
<text x="453.80" y="159.27" fill="#3a3a3a" stroke="#3a3a3a" stroke-width="0.3" letter-spacing="1.1">**</text>
<text x="467.38" y="159.27" fill="#3a3a3a" stroke="#3a3a3a" stroke-width="0.3" letter-spacing="1.1">**</text>
<text x="480.96" y="159.27" fill="#3a3a3a" stroke="#3a3a3a" stroke-width="0.3" letter-spacing="1.1">**</text>
<text x="331.58" y="172.30" fill="#ffffff" stroke="#ffffff" stroke-width="0.3" letter-spacing="1.1">**</text>
<text x="345.16" y="172.30" fill="#3a3a3a" stroke="#3a3a3a" stroke-width="0.3" letter-spacing="1.1">**</text>
<text x="358.74" y="172.30" fill="#3a3a3a" stroke="#3a3a3a" stroke-width="0.3" letter-spacing="1.1">**</text>
<text x="372.32" y="172.30" fill="#3a3a3a" stroke="#3a3a3a" stroke-width="0.3" letter-spacing="1.1">**</text>
<text x="385.90" y="172.30" fill="#3a3a3a" stroke="#3a3a3a" stroke-width="0.3" letter-spacing="1.1">**</text>
<text x="399.48" y="172.30" fill="#3a3a3a" stroke="#3a3a3a" stroke-width="0.3" letter-spacing="1.1">**</text>
<text x="413.06" y="172.30" fill="#3a3a3a" stroke="#3a3a3a" stroke-width="0.3" letter-spacing="1.1">**</text>
<text x="426.64" y="172.30" fill="#3a3a3a" stroke="#3a3a3a" stroke-width="0.3" letter-spacing="1.1">**</text>
<text x="440.22" y="172.30" fill="#3a3a3a" stroke="#3a3a3a" stroke-width="0.3" letter-spacing="1.1">**</text>
<text x="453.80" y="172.30" fill="#3a3a3a" stroke="#3a3a3a" stroke-width="0.3" letter-spacing="1.1">**</text>
<text x="467.38" y="172.30" fill="#3a3a3a" stroke="#3a3a3a" stroke-width="0.3" letter-spacing="1.1">**</text>
<text x="480.96" y="172.30" fill="#3a3a3a" stroke="#3a3a3a" stroke-width="0.3" letter-spacing="1.1">**</text>
<text x="345.16" y="185.33" fill="#3a3a3a" stroke="#3a3a3a" stroke-width="0.3" letter-spacing="1.1">**</text>
<text x="358.74" y="185.33" fill="#3a3a3a" stroke="#3a3a3a" stroke-width="0.3" letter-spacing="1.1">*</text>
<text x="372.32" y="185.33" fill="#3a3a3a" stroke="#3a3a3a" stroke-width="0.3" letter-spacing="1.1">**</text>
<text x="385.90" y="185.33" fill="#3a3a3a" stroke="#3a3a3a" stroke-width="0.3" letter-spacing="1.1">**</text>
<text x="399.48" y="185.33" fill="#3a3a3a" stroke="#3a3a3a" stroke-width="0.3" letter-spacing="1.1">**</text>
<text x="413.06" y="185.33" fill="#3a3a3a" stroke="#3a3a3a" stroke-width="0.3" letter-spacing="1.1">**</text>
<text x="426.64" y="185.33" fill="#3a3a3a" stroke="#3a3a3a" stroke-width="0.3" letter-spacing="1.1">**</text>
<text x="440.22" y="185.33" fill="#3a3a3a" stroke="#3a3a3a" stroke-width="0.3" letter-spacing="1.1">**</text>
<text x="453.80" y="185.33" fill="#3a3a3a" stroke="#3a3a3a" stroke-width="0.3" letter-spacing="1.1">**</text>
<text x="467.38" y="185.33" fill="#3a3a3a" stroke="#3a3a3a" stroke-width="0.3" letter-spacing="1.1">**</text>
<text x="480.96" y="185.33" fill="#3a3a3a" stroke="#3a3a3a" stroke-width="0.3" letter-spacing="1.1">**</text>
<text x="372.32" y="198.36" fill="#3a3a3a" stroke="#3a3a3a" stroke-width="0.3" letter-spacing="1.1">**</text>
<text x="385.90" y="198.36" fill="#3a3a3a" stroke="#3a3a3a" stroke-width="0.3" letter-spacing="1.1">**</text>
<text x="399.48" y="198.36" fill="#3a3a3a" stroke="#3a3a3a" stroke-width="0.3" letter-spacing="1.1">**</text>
<text x="440.22" y="198.36" fill="#3a3a3a" stroke="#3a3a3a" stroke-width="0.3" letter-spacing="1.1">*</text>
<text x="453.80" y="198.36" fill="#3a3a3a" stroke="#3a3a3a" stroke-width="0.3" letter-spacing="1.1">**</text>
<text x="467.38" y="198.36" fill="#3a3a3a" stroke="#3a3a3a" stroke-width="0.3" letter-spacing="1.1">**</text>
<text x="480.96" y="198.36" fill="#3a3a3a" stroke="#3a3a3a" stroke-width="0.3" letter-spacing="1.1">**</text>
<text x="385.90" y="211.40" fill="#3a3a3a" stroke="#3a3a3a" stroke-width="0.3" letter-spacing="1.1">**</text>
<text x="426.64" y="211.40" fill="#3a3a3a" stroke="#3a3a3a" stroke-width="0.3" letter-spacing="1.1">**</text>
<text x="440.22" y="211.40" fill="#3a3a3a" stroke="#3a3a3a" stroke-width="0.3" letter-spacing="1.1">**</text>
<text x="453.80" y="211.40" fill="#3a3a3a" stroke="#3a3a3a" stroke-width="0.3" letter-spacing="1.1">*</text>
<text x="385.90" y="224.43" fill="#3a3a3a" stroke="#3a3a3a" stroke-width="0.3" letter-spacing="1.1">**</text>
<text x="399.48" y="224.43" fill="#3a3a3a" stroke="#3a3a3a" stroke-width="0.3" letter-spacing="1.1">**</text>
<text x="413.06" y="224.43" fill="#ffffff" stroke="#ffffff" stroke-width="0.3" letter-spacing="1.1">**</text>
<text x="426.64" y="224.43" fill="#3a3a3a" stroke="#3a3a3a" stroke-width="0.3" letter-spacing="1.1">**</text>
<text x="440.22" y="224.43" fill="#3a3a3a" stroke="#3a3a3a" stroke-width="0.3" letter-spacing="1.1">**</text>
<text x="453.80" y="224.43" fill="#3a3a3a" stroke="#3a3a3a" stroke-width="0.3" letter-spacing="1.1">**</text>
<text x="467.38" y="224.43" fill="#3a3a3a" stroke="#3a3a3a" stroke-width="0.3" letter-spacing="1.1">**</text>
<text x="480.96" y="224.43" fill="#3a3a3a" stroke="#3a3a3a" stroke-width="0.3" letter-spacing="1.1">**</text>
<text x="399.48" y="237.46" fill="#3a3a3a" stroke="#3a3a3a" stroke-width="0.3" letter-spacing="1.1">**</text>
<text x="413.06" y="237.46" fill="#3a3a3a" stroke="#3a3a3a" stroke-width="0.3" letter-spacing="1.1">**</text>
<text x="426.64" y="237.46" fill="#3a3a3a" stroke="#3a3a3a" stroke-width="0.3" letter-spacing="1.1">**</text>
<text x="440.22" y="237.46" fill="#3a3a3a" stroke="#3a3a3a" stroke-width="0.3" letter-spacing="1.1">**</text>
<text x="467.38" y="237.46" fill="#3a3a3a" stroke="#3a3a3a" stroke-width="0.3" letter-spacing="1.1">**</text>
<text x="480.96" y="237.46" fill="#3a3a3a" stroke="#3a3a3a" stroke-width="0.3" letter-spacing="1.1">**</text>
<text x="413.06" y="250.49" fill="#3a3a3a" stroke="#3a3a3a" stroke-width="0.3" letter-spacing="1.1">**</text>
<text x="426.64" y="250.49" fill="#3a3a3a" stroke="#3a3a3a" stroke-width="0.3" letter-spacing="1.1">**</text>
<text x="440.22" y="250.49" fill="#3a3a3a" stroke="#3a3a3a" stroke-width="0.3" letter-spacing="1.1">**</text>
<text x="453.80" y="250.49" fill="#3a3a3a" stroke="#3a3a3a" stroke-width="0.3" letter-spacing="1.1">**</text>
<text x="467.38" y="250.49" fill="#3a3a3a" stroke="#3a3a3a" stroke-width="0.3" letter-spacing="1.1">**</text>
<text x="480.96" y="250.49" fill="#3a3a3a" stroke="#3a3a3a" stroke-width="0.3" letter-spacing="1.1">**</text>
<text x="426.64" y="263.52" fill="#3a3a3a" stroke="#3a3a3a" stroke-width="0.3" letter-spacing="1.1">**</text>
<text x="440.22" y="263.52" fill="#3a3a3a" stroke="#3a3a3a" stroke-width="0.3" letter-spacing="1.1">**</text>
<text x="453.80" y="263.52" fill="#3a3a3a" stroke="#3a3a3a" stroke-width="0.3" letter-spacing="1.1">**</text>
<text x="467.38" y="263.52" fill="#3a3a3a" stroke="#3a3a3a" stroke-width="0.3" letter-spacing="1.1">**</text>
<text x="480.96" y="263.52" fill="#3a3a3a" stroke="#3a3a3a" stroke-width="0.3" letter-spacing="1.1">**</text>
<text x="440.22" y="276.56" fill="#3a3a3a" stroke="#3a3a3a" stroke-width="0.3" letter-spacing="1.1">**</text>
<text x="453.80" y="276.56" fill="#3a3a3a" stroke="#3a3a3a" stroke-width="0.3" letter-spacing="1.1">**</text>
<text x="467.38" y="276.56" fill="#3a3a3a" stroke="#3a3a3a" stroke-width="0.3" letter-spacing="1.1">**</text>
<text x="480.96" y="276.56" fill="#3a3a3a" stroke="#3a3a3a" stroke-width="0.3" letter-spacing="1.1">**</text>
<text x="453.80" y="289.59" fill="#3a3a3a" stroke="#3a3a3a" stroke-width="0.3" letter-spacing="1.1">**</text>
<text x="467.38" y="289.59" fill="#3a3a3a" stroke="#3a3a3a" stroke-width="0.3" letter-spacing="1.1">**</text>
<text x="480.96" y="289.59" fill="#3a3a3a" stroke="#3a3a3a" stroke-width="0.3" letter-spacing="1.1">**</text>
<text x="467.38" y="302.62" fill="#3a3a3a" stroke="#3a3a3a" stroke-width="0.3" letter-spacing="1.1">*</text>
<text x="480.96" y="302.62" fill="#3a3a3a" stroke="#3a3a3a" stroke-width="0.3" letter-spacing="1.1">**</text>
<text x="480.96" y="315.65" fill="#3a3a3a" stroke="#3a3a3a" stroke-width="0.3" letter-spacing="1.1">**</text>
</g>
<rect x="147.80" y="6.90" width="340.10" height="326.40" fill="none" stroke="#111" stroke-width="1.3"/>
<g font-family="'Liberation Serif', serif" font-size="8.68" fill="#1c1c1c" text-anchor="end">
<text x="144.00" y="16.35">Soil total nitrogen</text>
<text x="143.89" y="29.38">Soil organic matter</text>
<text x="143.78" y="42.41">Available potassium</text>
<text x="143.68" y="55.44">Inorganic nitrogen wet deposition</text>
<text x="143.57" y="68.48">Average annual precipitation</text>
<text x="143.46" y="81.51">Average annual evaporation</text>
<text x="143.35" y="94.54">Risk index of livestock manure pollution</text>
<text x="143.24" y="107.57">Inorganic nitrogen dry deposition</text>
<text x="143.13" y="120.60">Livestock manure application</text>
<text x="143.03" y="133.64">Topsoil pH</text>
<text x="142.92" y="146.67">Relative humidity</text>
<text x="142.81" y="159.70">Elevation</text>
<text x="142.70" y="172.73">Crop yield</text>
<text x="142.59" y="185.76">Straw returning to field</text>
<text x="142.48" y="198.80">Nitrogen fertilizer use</text>
<text x="142.38" y="211.83">Available phosphorus</text>
<text x="142.27" y="224.86">Average annual temperature</text>
<text x="142.16" y="237.89">NDVI</text>
<text x="142.05" y="250.92">Average annual sunshine</text>
<text x="141.94" y="263.96">Annual cumulative temperature</text>
<text x="141.83" y="276.99">Drainage capability</text>
<text x="141.72" y="290.02">Clay</text>
<text x="141.62" y="303.05">Slope</text>
<text x="141.51" y="316.08">NPP</text>
<text x="141.40" y="329.12">Aspect</text>
</g>
<g font-family="'Liberation Serif', serif" font-size="8.58" fill="#1c1c1c" text-anchor="end">
<text transform="translate(152.89,341.50) rotate(-45)" x="0" y="0">Soil total nitrogen</text>
<text transform="translate(167.97,341.50) rotate(-45)" x="0" y="0">Soil organic matter</text>
<text transform="translate(183.05,341.50) rotate(-45)" x="0" y="0">Available potassium</text>
<text transform="translate(197.13,341.50) rotate(-45)" x="0" y="0">Inorganic nitrogen wet deposition</text>
<text transform="translate(210.71,341.50) rotate(-45)" x="0" y="0">Average annual precipitation</text>
<text transform="translate(224.29,341.50) rotate(-45)" x="0" y="0">Average annual evaporation</text>
<text transform="translate(238.17,341.50) rotate(-45)" x="0" y="0">Risk index of livestock manure pollution</text>
<text transform="translate(251.95,341.50) rotate(-45)" x="0" y="0">Inorganic nitrogen dry deposition</text>
<text transform="translate(265.73,341.50) rotate(-45)" x="0" y="0">Livestock manure application</text>
<text transform="translate(280.01,341.50) rotate(-45)" x="0" y="0">Topsoil pH</text>
<text transform="translate(295.39,341.50) rotate(-45)" x="0" y="0">Relative humidity</text>
<text transform="translate(308.97,341.50) rotate(-45)" x="0" y="0">Elevation</text>
<text transform="translate(322.55,341.50) rotate(-45)" x="0" y="0">Crop yield</text>
<text transform="translate(336.13,341.50) rotate(-45)" x="0" y="0">Straw returning to field</text>
<text transform="translate(349.71,341.50) rotate(-45)" x="0" y="0">Nitrogen fertilizer use</text>
<text transform="translate(363.29,341.50) rotate(-45)" x="0" y="0">Available phosphorus</text>
<text transform="translate(376.87,341.50) rotate(-45)" x="0" y="0">Average annual temperature</text>
<text transform="translate(390.45,341.50) rotate(-45)" x="0" y="0">NDVI</text>
<text transform="translate(404.03,341.50) rotate(-45)" x="0" y="0">Average annual sunshine</text>
<text transform="translate(417.61,341.50) rotate(-45)" x="0" y="0">Annual cumulative temperature</text>
<text transform="translate(431.19,341.50) rotate(-45)" x="0" y="0">Drainage capability</text>
<text transform="translate(444.77,341.50) rotate(-45)" x="0" y="0">Clay</text>
<text transform="translate(458.35,341.50) rotate(-45)" x="0" y="0">Slope</text>
<text transform="translate(471.93,341.50) rotate(-45)" x="0" y="0">NPP</text>
<text transform="translate(486.31,341.50) rotate(-45)" x="0" y="0">Aspect</text>
</g>
<defs><linearGradient id="cb" x1="0" y1="0" x2="0" y2="1">
<stop offset="0.000" stop-color="#a84e12"/>
<stop offset="0.100" stop-color="#ce620e"/>
<stop offset="0.200" stop-color="#ec740e"/>
<stop offset="0.250" stop-color="#ef7f22"/>
<stop offset="0.300" stop-color="#f38e3a"/>
<stop offset="0.400" stop-color="#fccfa0"/>
<stop offset="0.500" stop-color="#fdf6e6"/>
<stop offset="0.525" stop-color="#e0f1e9"/>
<stop offset="0.550" stop-color="#bee7df"/>
<stop offset="0.600" stop-color="#96dcd3"/>
<stop offset="0.650" stop-color="#5fcdc6"/>
<stop offset="0.700" stop-color="#3ec3bc"/>
<stop offset="0.800" stop-color="#26afa8"/>
<stop offset="0.900" stop-color="#199690"/>
<stop offset="1.000" stop-color="#0e7d78"/>
</linearGradient></defs>
<rect x="510.30" y="6.40" width="8.30" height="325.90" fill="url(#cb)" stroke="#222" stroke-width="1.1"/>
<g font-family="'Liberation Serif', serif" font-size="8.58" fill="#1c1c1c" text-anchor="start">
<line x1="518.60" y1="6.40" x2="524.20" y2="6.40" stroke="#222" stroke-width="0.9"/>
<text x="529" y="9.30">1.00</text>
<line x1="518.60" y1="38.99" x2="524.20" y2="38.99" stroke="#222" stroke-width="0.9"/>
<text x="529" y="41.89">0.80</text>
<line x1="518.60" y1="71.58" x2="524.20" y2="71.58" stroke="#222" stroke-width="0.9"/>
<text x="529" y="74.48">0.60</text>
<line x1="518.60" y1="104.17" x2="524.20" y2="104.17" stroke="#222" stroke-width="0.9"/>
<text x="529" y="107.07">0.40</text>
<line x1="518.60" y1="136.76" x2="524.20" y2="136.76" stroke="#222" stroke-width="0.9"/>
<text x="529" y="139.66">0.20</text>
<line x1="518.60" y1="169.35" x2="524.20" y2="169.35" stroke="#222" stroke-width="0.9"/>
<text x="529" y="172.25">0.00</text>
<line x1="518.60" y1="201.94" x2="524.20" y2="201.94" stroke="#222" stroke-width="0.9"/>
<text x="529" y="204.84">-0.20</text>
<line x1="518.60" y1="234.53" x2="524.20" y2="234.53" stroke="#222" stroke-width="0.9"/>
<text x="529" y="237.43">-0.40</text>
<line x1="518.60" y1="267.12" x2="524.20" y2="267.12" stroke="#222" stroke-width="0.9"/>
<text x="529" y="270.02">-0.60</text>
<line x1="518.60" y1="299.71" x2="524.20" y2="299.71" stroke="#222" stroke-width="0.9"/>
<text x="529" y="302.61">-0.80</text>
<line x1="518.60" y1="332.30" x2="524.20" y2="332.30" stroke="#222" stroke-width="0.9"/>
<text x="529" y="335.20">-1.00</text>
</g>
</svg>
</body></html>
